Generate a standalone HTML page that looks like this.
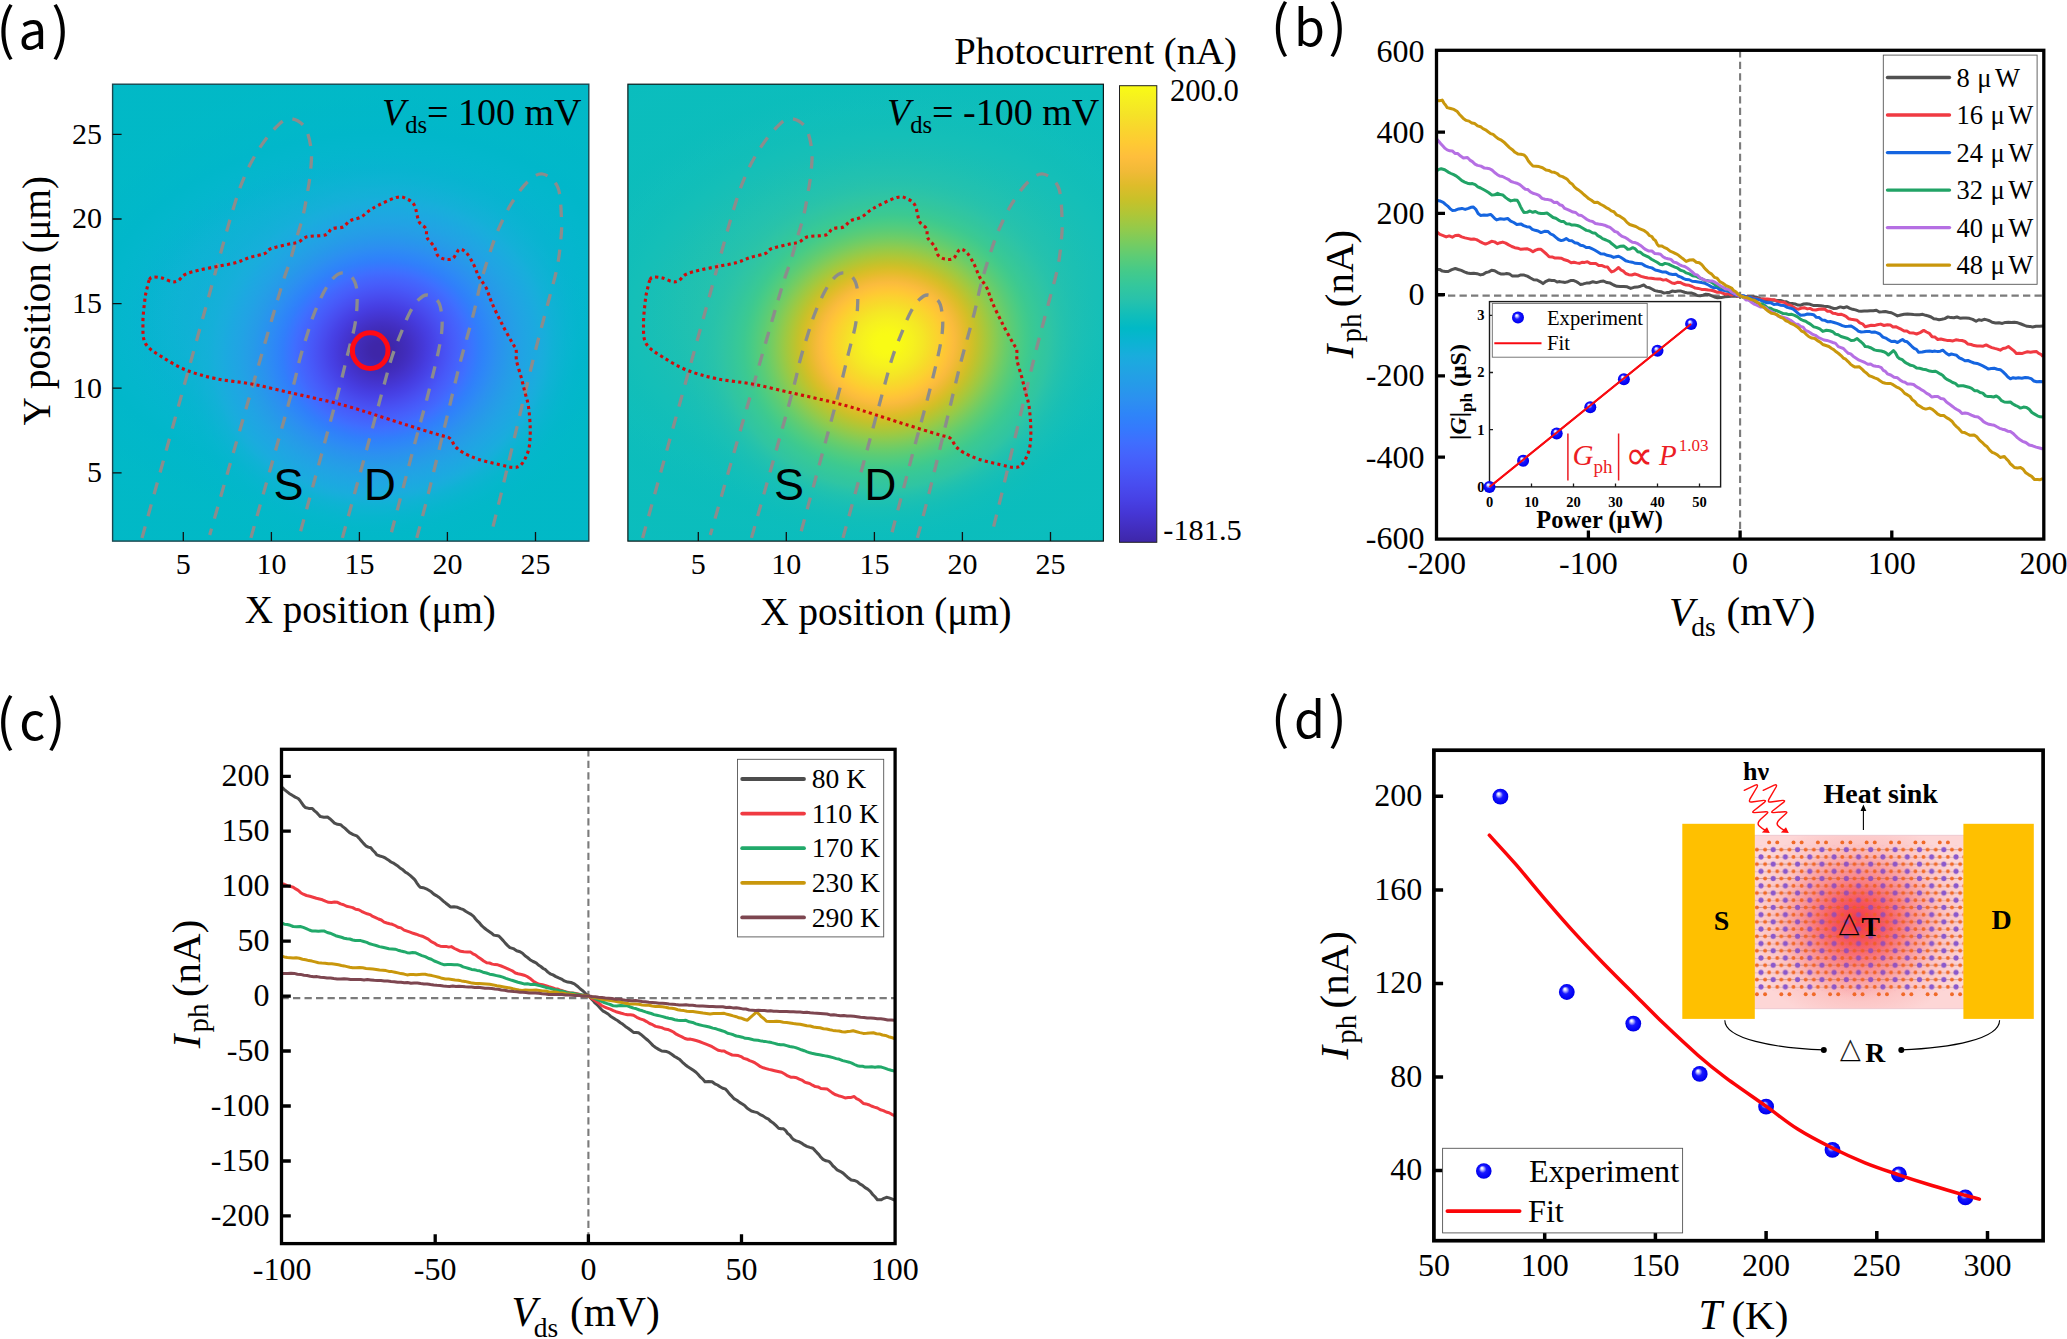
<!DOCTYPE html>
<html><head><meta charset="utf-8"><title>Figure</title>
<style>html,body{margin:0;padding:0;background:#fff}svg{display:block}</style>
</head><body>
<svg width="2067" height="1339" viewBox="0 0 2067 1339">
<defs>
<clipPath id="clipA"><rect x="112.6" y="84.2" width="476.19999999999993" height="456.90000000000003"/></clipPath>
<clipPath id="clipB"><rect x="627.9" y="84.2" width="475.5000000000001" height="456.90000000000003"/></clipPath>
<radialGradient id="gLw" gradientUnits="userSpaceOnUse" cx="0" cy="0" r="360.0" gradientTransform="translate(352,302) rotate(-8) scale(1.250,0.800)"><stop offset="0.000" stop-color="#23a0e5"/><stop offset="0.042" stop-color="#23a1e5"/><stop offset="0.083" stop-color="#22a2e4"/><stop offset="0.125" stop-color="#21a3e3"/><stop offset="0.167" stop-color="#1fa5e2"/><stop offset="0.208" stop-color="#1ea8e1"/><stop offset="0.250" stop-color="#1baade"/><stop offset="0.292" stop-color="#19addc"/><stop offset="0.333" stop-color="#15afd9"/><stop offset="0.375" stop-color="#12b1d6"/><stop offset="0.417" stop-color="#0db3d3"/><stop offset="0.458" stop-color="#08b4d0"/><stop offset="0.500" stop-color="#05b6ce"/><stop offset="0.542" stop-color="#03b7cc"/><stop offset="0.583" stop-color="#01b7ca"/><stop offset="0.625" stop-color="#01b8c9"/><stop offset="0.667" stop-color="#01b8c8"/><stop offset="0.708" stop-color="#01b9c7"/><stop offset="0.750" stop-color="#01b9c7"/><stop offset="0.792" stop-color="#01b9c6"/><stop offset="0.833" stop-color="#01b9c6"/><stop offset="0.875" stop-color="#01b9c6"/><stop offset="0.917" stop-color="#01b9c6"/><stop offset="0.958" stop-color="#01b9c6"/><stop offset="1.000" stop-color="#01b9c6"/></radialGradient>
<radialGradient id="gLn" gradientUnits="userSpaceOnUse" cx="0" cy="0" r="310.0" gradientTransform="translate(381,350) rotate(-12) scale(0.750,0.670)"><stop offset="0.000" stop-color="#3e26a8" stop-opacity="1.000"/><stop offset="0.014" stop-color="#3e26a8" stop-opacity="1.000"/><stop offset="0.032" stop-color="#3e26a8" stop-opacity="1.000"/><stop offset="0.051" stop-color="#3e27ab" stop-opacity="1.000"/><stop offset="0.071" stop-color="#3f29b0" stop-opacity="1.000"/><stop offset="0.092" stop-color="#402bb6" stop-opacity="1.000"/><stop offset="0.113" stop-color="#412dbd" stop-opacity="1.000"/><stop offset="0.135" stop-color="#4330c5" stop-opacity="1.000"/><stop offset="0.157" stop-color="#4434ce" stop-opacity="1.000"/><stop offset="0.180" stop-color="#4538d7" stop-opacity="1.000"/><stop offset="0.203" stop-color="#463de0" stop-opacity="1.000"/><stop offset="0.227" stop-color="#4743e7" stop-opacity="1.000"/><stop offset="0.250" stop-color="#484aed" stop-opacity="1.000"/><stop offset="0.275" stop-color="#4851f3" stop-opacity="1.000"/><stop offset="0.299" stop-color="#4758f8" stop-opacity="1.000"/><stop offset="0.324" stop-color="#465ffb" stop-opacity="1.000"/><stop offset="0.349" stop-color="#4366fd" stop-opacity="1.000"/><stop offset="0.374" stop-color="#3f6eff" stop-opacity="1.000"/><stop offset="0.399" stop-color="#3876fe" stop-opacity="1.000"/><stop offset="0.425" stop-color="#317efb" stop-opacity="1.000"/><stop offset="0.451" stop-color="#2e85f8" stop-opacity="1.000"/><stop offset="0.477" stop-color="#2d8bf4" stop-opacity="1.000"/><stop offset="0.503" stop-color="#2b91ef" stop-opacity="1.000"/><stop offset="0.529" stop-color="#2896ec" stop-opacity="1.000"/><stop offset="0.556" stop-color="#269be8" stop-opacity="1.000"/><stop offset="0.582" stop-color="#249fe6" stop-opacity="1.000"/><stop offset="0.609" stop-color="#21a3e4" stop-opacity="1.000"/><stop offset="0.636" stop-color="#1fa6e2" stop-opacity="1.000"/><stop offset="0.664" stop-color="#1ca9e0" stop-opacity="1.000"/><stop offset="0.691" stop-color="#1aacdd" stop-opacity="1.000"/><stop offset="0.718" stop-color="#18aedb" stop-opacity="0.874"/><stop offset="0.746" stop-color="#14b0d8" stop-opacity="0.720"/><stop offset="0.774" stop-color="#12b1d6" stop-opacity="0.588"/><stop offset="0.802" stop-color="#0eb2d4" stop-opacity="0.476"/><stop offset="0.830" stop-color="#0bb4d2" stop-opacity="0.382"/><stop offset="0.858" stop-color="#08b4d0" stop-opacity="0.304"/><stop offset="0.886" stop-color="#06b5cf" stop-opacity="0.240"/><stop offset="0.914" stop-color="#05b6ce" stop-opacity="0.188"/><stop offset="0.943" stop-color="#04b6cd" stop-opacity="0.146"/><stop offset="0.971" stop-color="#03b7cc" stop-opacity="0.112"/><stop offset="1.000" stop-color="#02b7cb" stop-opacity="0.085"/></radialGradient>
<radialGradient id="gRw" gradientUnits="userSpaceOnUse" cx="0" cy="0" r="360.0" gradientTransform="translate(872,300) rotate(-8) scale(1.240,0.840)"><stop offset="0.000" stop-color="#3dc990"/><stop offset="0.042" stop-color="#3cc991"/><stop offset="0.083" stop-color="#3bc993"/><stop offset="0.125" stop-color="#38c895"/><stop offset="0.167" stop-color="#36c799"/><stop offset="0.208" stop-color="#33c69d"/><stop offset="0.250" stop-color="#30c5a1"/><stop offset="0.292" stop-color="#2dc4a5"/><stop offset="0.333" stop-color="#29c3a9"/><stop offset="0.375" stop-color="#25c2ad"/><stop offset="0.417" stop-color="#21c1b0"/><stop offset="0.458" stop-color="#1cc0b3"/><stop offset="0.500" stop-color="#18bfb6"/><stop offset="0.542" stop-color="#14bfb8"/><stop offset="0.583" stop-color="#11beb9"/><stop offset="0.625" stop-color="#0fbebb"/><stop offset="0.667" stop-color="#0dbdbc"/><stop offset="0.708" stop-color="#0bbdbc"/><stop offset="0.750" stop-color="#0bbdbd"/><stop offset="0.792" stop-color="#0abdbd"/><stop offset="0.833" stop-color="#0abdbd"/><stop offset="0.875" stop-color="#0abdbe"/><stop offset="0.917" stop-color="#09bdbe"/><stop offset="0.958" stop-color="#09bdbe"/><stop offset="1.000" stop-color="#09bcbe"/></radialGradient>
<radialGradient id="gRn" gradientUnits="userSpaceOnUse" cx="0" cy="0" r="310.0" gradientTransform="translate(887,343) rotate(-10) scale(0.730,0.650)"><stop offset="0.000" stop-color="#f9fb15" stop-opacity="1.000"/><stop offset="0.014" stop-color="#f9fb15" stop-opacity="1.000"/><stop offset="0.032" stop-color="#f9fb15" stop-opacity="1.000"/><stop offset="0.051" stop-color="#f9fa16" stop-opacity="1.000"/><stop offset="0.071" stop-color="#f8f818" stop-opacity="1.000"/><stop offset="0.092" stop-color="#f7f41c" stop-opacity="1.000"/><stop offset="0.113" stop-color="#f6f11f" stop-opacity="1.000"/><stop offset="0.135" stop-color="#f5ec22" stop-opacity="1.000"/><stop offset="0.157" stop-color="#f5e725" stop-opacity="1.000"/><stop offset="0.180" stop-color="#f6e028" stop-opacity="1.000"/><stop offset="0.203" stop-color="#f8d92b" stop-opacity="1.000"/><stop offset="0.227" stop-color="#fbd22f" stop-opacity="1.000"/><stop offset="0.250" stop-color="#feca33" stop-opacity="1.000"/><stop offset="0.275" stop-color="#fec239" stop-opacity="1.000"/><stop offset="0.299" stop-color="#fabb3d" stop-opacity="1.000"/><stop offset="0.324" stop-color="#efba35" stop-opacity="1.000"/><stop offset="0.349" stop-color="#e2bc2b" stop-opacity="1.000"/><stop offset="0.374" stop-color="#d3bf27" stop-opacity="1.000"/><stop offset="0.399" stop-color="#c2c22c" stop-opacity="1.000"/><stop offset="0.425" stop-color="#b0c636" stop-opacity="1.000"/><stop offset="0.451" stop-color="#9ec942" stop-opacity="1.000"/><stop offset="0.477" stop-color="#8ccb50" stop-opacity="1.000"/><stop offset="0.503" stop-color="#7acc5e" stop-opacity="1.000"/><stop offset="0.529" stop-color="#69cd6a" stop-opacity="1.000"/><stop offset="0.556" stop-color="#5bcc76" stop-opacity="1.000"/><stop offset="0.582" stop-color="#4fcc80" stop-opacity="1.000"/><stop offset="0.609" stop-color="#44cb89" stop-opacity="1.000"/><stop offset="0.636" stop-color="#3cc991" stop-opacity="1.000"/><stop offset="0.664" stop-color="#37c898" stop-opacity="1.000"/><stop offset="0.691" stop-color="#33c69d" stop-opacity="1.000"/><stop offset="0.718" stop-color="#30c5a2" stop-opacity="0.982"/><stop offset="0.746" stop-color="#2dc4a6" stop-opacity="0.808"/><stop offset="0.774" stop-color="#29c3a9" stop-opacity="0.660"/><stop offset="0.802" stop-color="#26c2ac" stop-opacity="0.535"/><stop offset="0.830" stop-color="#23c1af" stop-opacity="0.429"/><stop offset="0.858" stop-color="#20c1b1" stop-opacity="0.342"/><stop offset="0.886" stop-color="#1dc0b3" stop-opacity="0.270"/><stop offset="0.914" stop-color="#1ac0b4" stop-opacity="0.211"/><stop offset="0.943" stop-color="#18bfb6" stop-opacity="0.164"/><stop offset="0.971" stop-color="#16bfb7" stop-opacity="0.126"/><stop offset="1.000" stop-color="#14bfb8" stop-opacity="0.096"/></radialGradient>
<linearGradient id="cb" x1="0" y1="0" x2="0" y2="1"><stop offset="0.0000" stop-color="#f9fb15"/><stop offset="0.0312" stop-color="#f6ef20"/><stop offset="0.0625" stop-color="#f5e327"/><stop offset="0.0938" stop-color="#f9d62d"/><stop offset="0.1250" stop-color="#feca33"/><stop offset="0.1562" stop-color="#febe3c"/><stop offset="0.1875" stop-color="#f1ba37"/><stop offset="0.2188" stop-color="#debc2a"/><stop offset="0.2500" stop-color="#c8c129"/><stop offset="0.2812" stop-color="#afc637"/><stop offset="0.3125" stop-color="#94ca4a"/><stop offset="0.3438" stop-color="#77cc60"/><stop offset="0.3750" stop-color="#5ccc76"/><stop offset="0.4062" stop-color="#44ca8a"/><stop offset="0.4375" stop-color="#34c79c"/><stop offset="0.4688" stop-color="#28c2ab"/><stop offset="0.5000" stop-color="#12beb9"/><stop offset="0.5312" stop-color="#01b9c6"/><stop offset="0.5625" stop-color="#0cb3d3"/><stop offset="0.5938" stop-color="#1aacdd"/><stop offset="0.6250" stop-color="#21a3e3"/><stop offset="0.6562" stop-color="#269ae9"/><stop offset="0.6875" stop-color="#2c90f0"/><stop offset="0.7188" stop-color="#2e85f8"/><stop offset="0.7500" stop-color="#347afd"/><stop offset="0.7812" stop-color="#3f6efe"/><stop offset="0.8125" stop-color="#4562fc"/><stop offset="0.8438" stop-color="#4757f7"/><stop offset="0.8750" stop-color="#484cef"/><stop offset="0.9062" stop-color="#4741e5"/><stop offset="0.9375" stop-color="#4536d5"/><stop offset="0.9688" stop-color="#422ebf"/><stop offset="1.0000" stop-color="#3e26a8"/></linearGradient>
<radialGradient id="ball" cx="0.5" cy="0.5" r="0.52" fx="0.37" fy="0.3"><stop offset="0" stop-color="#ffffff"/><stop offset="0.1" stop-color="#f0f0ff"/><stop offset="0.26" stop-color="#9a9aff"/><stop offset="0.46" stop-color="#1818ff"/><stop offset="0.85" stop-color="#0202f4"/><stop offset="1" stop-color="#0000d8"/></radialGradient>
<radialGradient id="heat" gradientUnits="userSpaceOnUse" cx="1858" cy="922" r="118" gradientTransform="translate(1858,922) scale(1,0.86) translate(-1858,-922)"><stop offset="0" stop-color="#f4404a"/><stop offset="0.2" stop-color="#f6666c"/><stop offset="0.45" stop-color="#f99a9c"/><stop offset="0.75" stop-color="#fcc4c4"/><stop offset="1" stop-color="#fdd6d6"/></radialGradient>
<pattern id="lat" patternUnits="userSpaceOnUse" x="1761.0" y="842.46" width="24.38" height="14.44"><path d="M0,0H24.38M0,7.22H24.38" stroke="#a8756a" stroke-width="0.7" opacity="0.75"/><circle cx="-24.38" cy="0.00" r="2.55" fill="#8a58cc"/><circle cx="-16.25" cy="0.00" r="1.95" fill="#f06a28"/><circle cx="-8.12" cy="0.00" r="1.95" fill="#f06a28"/><circle cx="0.00" cy="0.00" r="2.55" fill="#8a58cc"/><circle cx="8.13" cy="0.00" r="1.95" fill="#f06a28"/><circle cx="16.26" cy="0.00" r="1.95" fill="#f06a28"/><circle cx="24.38" cy="0.00" r="2.55" fill="#8a58cc"/><circle cx="32.51" cy="0.00" r="1.95" fill="#f06a28"/><circle cx="40.64" cy="0.00" r="1.95" fill="#f06a28"/><circle cx="-24.38" cy="14.44" r="2.55" fill="#8a58cc"/><circle cx="-16.25" cy="14.44" r="1.95" fill="#f06a28"/><circle cx="-8.12" cy="14.44" r="1.95" fill="#f06a28"/><circle cx="0.00" cy="14.44" r="2.55" fill="#8a58cc"/><circle cx="8.13" cy="14.44" r="1.95" fill="#f06a28"/><circle cx="16.26" cy="14.44" r="1.95" fill="#f06a28"/><circle cx="24.38" cy="14.44" r="2.55" fill="#8a58cc"/><circle cx="32.51" cy="14.44" r="1.95" fill="#f06a28"/><circle cx="40.64" cy="14.44" r="1.95" fill="#f06a28"/><circle cx="-12.19" cy="7.22" r="2.55" fill="#8a58cc"/><circle cx="-4.06" cy="7.22" r="1.95" fill="#f06a28"/><circle cx="4.07" cy="7.22" r="1.95" fill="#f06a28"/><circle cx="12.19" cy="7.22" r="2.55" fill="#8a58cc"/><circle cx="20.32" cy="7.22" r="1.95" fill="#f06a28"/><circle cx="28.45" cy="7.22" r="1.95" fill="#f06a28"/><circle cx="36.57" cy="7.22" r="2.55" fill="#8a58cc"/><circle cx="44.70" cy="7.22" r="1.95" fill="#f06a28"/><circle cx="52.83" cy="7.22" r="1.95" fill="#f06a28"/></pattern>
<clipPath id="clipLat"><rect x="1754.8" y="845.8" width="208.60000000000014" height="145.0"/></clipPath>
<radialGradient id="heat2" gradientUnits="userSpaceOnUse" cx="1858" cy="922" r="80"><stop offset="0" stop-color="#f42030" stop-opacity="0.3"/><stop offset="1" stop-color="#f42030" stop-opacity="0"/></radialGradient>
</defs>
<rect width="2067" height="1339" fill="#fff"/>
<text y="49.3" font-family="Noto Sans CJK SC, Liberation Sans, sans-serif" font-size="55.3"><tspan x="-3.8">(</tspan><tspan x="18.5" font-size="51">a</tspan><tspan x="51.2" font-size="55.3">)</tspan></text>
<rect x="112.6" y="84.2" width="476.19999999999993" height="456.90000000000003" fill="#01b9c6"/>
<rect x="112.6" y="84.2" width="476.19999999999993" height="456.90000000000003" fill="url(#gLw)"/>
<rect x="112.6" y="84.2" width="476.19999999999993" height="456.90000000000003" fill="url(#gLn)"/>
<rect x="627.9" y="84.2" width="475.5000000000001" height="456.90000000000003" fill="#09bcbe"/>
<rect x="627.9" y="84.2" width="475.5000000000001" height="456.90000000000003" fill="url(#gRw)"/>
<rect x="627.9" y="84.2" width="475.5000000000001" height="456.90000000000003" fill="url(#gRn)"/>
<g clip-path="url(#clipA)"><g fill="none"><path d="M142.0,538.0C152.2,501.1 190.6,362.2 203.2,316.6C215.8,271.0 213.5,279.2 217.5,264.6C221.5,250.0 224.7,238.3 227.4,228.7C230.1,219.1 231.5,214.4 233.7,207.2C235.9,200.0 238.1,192.7 240.8,185.7C243.5,178.7 246.4,171.8 249.8,165.1C253.2,158.4 257.1,151.7 261.4,145.4C265.7,139.1 271.2,132.0 275.8,127.5C280.4,123.0 284.2,118.7 289.0,118.5C293.8,118.3 300.7,121.5 304.4,126.6C308.1,131.7 310.1,141.4 311.1,149.0C312.1,156.6 311.1,164.7 310.4,172.3C309.7,179.9 308.4,187.2 307.1,194.7C305.8,202.2 304.5,209.8 302.7,217.1C300.9,224.4 298.5,231.3 296.4,238.6C294.3,245.9 293.5,249.8 290.1,261.0C286.7,272.2 289.2,260.1 275.8,305.8C262.4,351.5 220.7,496.8 209.7,535.0" stroke="#8c8c8c" stroke-width="3.3" stroke-dasharray="12.3 10.4"/><path d="M250.9,537.9C257.4,514.9 281.5,429.7 289.6,400.0C297.7,370.3 296.8,370.2 299.7,359.5C302.6,348.8 304.5,343.2 306.9,335.6C309.3,328.0 311.2,321.2 314.0,314.0C316.8,306.8 320.5,298.5 323.6,292.6C326.7,286.7 329.5,282.1 332.6,278.8C335.7,275.5 338.9,273.2 342.1,272.9C345.3,272.6 349.3,274.5 351.7,277.0C354.1,279.5 355.6,283.0 356.5,287.8C357.4,292.6 357.3,299.3 357.0,305.7C356.7,312.1 356.2,318.2 354.7,326.0C353.2,333.8 351.2,340.0 348.1,352.3C345.0,364.6 344.2,370.0 336.2,400.0C328.2,430.0 306.3,510.3 300.3,532.4" stroke="#8c8c8c" stroke-width="3.3" stroke-dasharray="12.3 10.4"/><path d="M342.4,537.9C346.4,523.2 359.4,476.1 366.5,450.0C373.6,423.9 380.8,396.7 385.1,381.0C389.4,365.3 389.5,364.3 392.3,355.9C395.1,347.5 398.9,338.2 401.9,330.8C404.9,323.4 407.4,316.9 410.2,311.7C413.0,306.5 415.8,302.5 418.6,299.7C421.4,296.9 423.8,294.8 427.0,295.0C430.2,295.2 435.3,298.1 437.7,300.9C440.1,303.7 440.6,306.9 441.3,311.7C442.0,316.5 442.5,322.4 441.9,329.6C441.3,336.8 440.2,343.2 437.7,354.7C435.2,366.2 430.8,383.5 426.9,398.8C422.9,414.1 419.9,424.0 414.0,446.4C408.1,468.8 395.0,518.8 391.2,533.3" stroke="#8c8c8c" stroke-width="3.3" stroke-dasharray="12.3 10.4"/><path d="M416.8,537.9C418.8,530.3 424.0,511.0 428.7,492.1C433.4,473.2 440.0,445.8 445.2,424.4C450.4,403.0 455.1,382.6 459.8,364.0C464.6,345.4 470.2,326.6 473.7,313.0C477.2,299.4 478.0,292.9 480.8,282.5C483.6,272.1 487.7,259.3 490.7,250.3C493.7,241.3 495.3,236.5 498.7,228.7C502.1,220.9 506.5,211.5 511.3,203.7C516.1,195.9 522.2,186.9 527.4,182.0C532.6,177.1 537.5,173.1 542.6,174.0C547.7,174.9 554.8,179.9 557.9,187.5C561.0,195.1 561.0,210.8 561.5,219.8C562.0,228.8 561.4,233.3 560.6,241.3C559.9,249.3 559.1,257.7 557.0,268.0C554.9,278.3 551.7,288.8 548.0,303.0C544.3,317.2 539.4,334.6 534.8,353.0C530.2,371.4 525.4,391.7 520.2,413.4C515.0,435.1 508.4,463.3 503.7,483.0C499.0,502.7 493.8,523.4 491.8,531.5" stroke="#8c8c8c" stroke-width="3.3" stroke-dasharray="12.3 10.4"/><path d="M149.4,279.8C150.5,277.7 150.9,277.4 153.0,277.1C155.1,276.8 158.9,277.2 162.0,278.0C165.1,278.8 169.1,281.2 171.8,281.6C174.5,282.1 175.8,281.9 178.1,280.7C180.3,279.5 181.7,276.2 185.3,274.4C188.9,272.6 194.2,271.3 199.6,270.0C205.0,268.7 211.5,267.6 217.5,266.4C223.5,265.2 230.0,264.3 235.4,262.8C240.8,261.3 245.0,258.9 249.8,257.4C254.6,255.9 260.5,255.3 264.1,253.8C267.7,252.3 267.1,250.1 271.3,248.5C275.5,246.9 284.7,245.1 289.2,244.0C293.7,242.9 295.2,243.4 298.2,242.2C301.2,241.0 302.6,238.0 307.1,236.8C311.6,235.6 320.9,236.3 325.1,235.0C329.3,233.7 329.2,230.0 332.2,228.7C335.2,227.4 340.0,228.3 343.0,227.0C346.0,225.7 347.1,222.3 350.1,220.7C353.1,219.0 357.0,219.2 360.9,217.1C364.8,215.0 367.4,211.3 373.3,208.0C379.2,204.7 390.9,198.9 396.6,197.4C402.3,195.9 404.3,197.9 407.3,199.2C410.3,200.5 412.6,201.7 414.5,205.4C416.4,209.1 417.1,217.7 419.0,221.6C420.9,225.5 424.7,226.0 426.0,228.7C427.3,231.4 425.6,234.7 427.0,237.7C428.4,240.7 432.4,243.7 434.2,246.7C436.0,249.7 436.0,253.5 437.8,255.6C439.6,257.7 442.5,258.8 445.0,259.2C447.5,259.6 450.6,259.9 453.0,258.3C455.4,256.7 457.1,250.3 459.3,249.4C461.6,248.5 464.1,250.5 466.5,253.0C468.9,255.5 471.6,260.6 473.7,264.6C475.8,268.6 476.9,273.1 479.0,277.0C481.1,280.9 484.1,283.7 486.2,287.9C488.3,292.1 489.0,296.2 491.6,302.2C494.2,308.2 498.3,316.9 501.9,323.8C505.4,330.8 510.5,339.6 512.9,343.9C515.3,348.2 515.5,346.6 516.1,349.4C516.7,352.1 515.7,355.8 516.5,360.4C517.3,365.0 519.7,371.7 521.1,376.9C522.5,382.1 523.5,386.6 524.7,391.5C525.9,396.4 527.5,400.0 528.4,406.1C529.3,412.2 530.1,421.4 530.2,428.1C530.4,434.8 530.0,441.5 529.3,446.4C528.5,451.3 527.2,454.2 525.7,457.4C524.2,460.6 522.3,463.9 520.2,465.6C518.1,467.3 516.3,467.5 512.9,467.4C509.5,467.2 505.8,466.1 500.0,464.7C494.2,463.3 484.2,461.2 478.1,459.2C472.0,457.2 467.2,454.9 463.4,452.8C459.6,450.7 457.5,448.8 455.2,446.4C452.9,444.0 452.6,440.2 449.7,438.2C446.8,436.2 445.3,436.8 437.8,434.5C430.3,432.2 415.6,427.8 404.9,424.4C394.2,421.0 382.9,417.3 373.8,414.4C364.7,411.5 357.4,409.1 350.0,407.0C342.6,404.9 339.1,403.9 329.6,401.6C320.1,399.3 305.8,396.2 293.0,393.3C280.2,390.4 265.5,386.6 252.7,384.2C239.9,381.8 227.1,381.0 216.1,378.7C205.1,376.4 195.8,373.9 186.9,370.4C178.1,366.9 169.9,362.0 163.0,357.6C156.1,353.2 149.0,349.5 145.7,343.9C142.3,338.3 143.1,331.1 142.9,323.8C142.8,316.5 144.2,305.7 144.8,300.0C145.4,294.3 145.9,293.1 146.7,289.7C147.5,286.3 148.3,281.9 149.4,279.8Z" stroke="#d20c0c" stroke-width="3.1" stroke-dasharray="3.1 3.3"/></g></g>
<g clip-path="url(#clipB)"><g fill="none"><path d="M642.6,538.0C652.8,501.1 691.2,362.2 703.8,316.6C716.4,271.0 714.1,279.2 718.1,264.6C722.1,250.0 725.3,238.3 728.0,228.7C730.7,219.1 732.1,214.4 734.3,207.2C736.5,200.0 738.7,192.7 741.4,185.7C744.1,178.7 747.0,171.8 750.4,165.1C753.8,158.4 757.7,151.7 762.0,145.4C766.3,139.1 771.8,132.0 776.4,127.5C781.0,123.0 784.8,118.7 789.6,118.5C794.4,118.3 801.3,121.5 805.0,126.6C808.7,131.7 810.7,141.4 811.7,149.0C812.7,156.6 811.7,164.7 811.0,172.3C810.3,179.9 809.0,187.2 807.7,194.7C806.4,202.2 805.1,209.8 803.3,217.1C801.5,224.4 799.1,231.3 797.0,238.6C794.9,245.9 794.1,249.8 790.7,261.0C787.3,272.2 789.8,260.1 776.4,305.8C763.0,351.5 721.3,496.8 710.3,535.0" stroke="#8c8c8c" stroke-width="3.3" stroke-dasharray="12.3 10.4"/><path d="M751.5,537.9C758.0,514.9 782.1,429.7 790.2,400.0C798.3,370.3 797.4,370.2 800.3,359.5C803.2,348.8 805.1,343.2 807.5,335.6C809.9,328.0 811.8,321.2 814.6,314.0C817.4,306.8 821.1,298.5 824.2,292.6C827.3,286.7 830.1,282.1 833.2,278.8C836.3,275.5 839.5,273.2 842.7,272.9C845.9,272.6 849.9,274.5 852.3,277.0C854.7,279.5 856.2,283.0 857.1,287.8C858.0,292.6 857.9,299.3 857.6,305.7C857.3,312.1 856.8,318.2 855.3,326.0C853.8,333.8 851.8,340.0 848.7,352.3C845.6,364.6 844.8,370.0 836.8,400.0C828.8,430.0 806.9,510.3 800.9,532.4" stroke="#8c8c8c" stroke-width="3.3" stroke-dasharray="12.3 10.4"/><path d="M843.0,537.9C847.0,523.2 860.0,476.1 867.1,450.0C874.2,423.9 881.4,396.7 885.7,381.0C890.0,365.3 890.1,364.3 892.9,355.9C895.7,347.5 899.5,338.2 902.5,330.8C905.5,323.4 908.0,316.9 910.8,311.7C913.6,306.5 916.4,302.5 919.2,299.7C922.0,296.9 924.4,294.8 927.6,295.0C930.8,295.2 935.9,298.1 938.3,300.9C940.7,303.7 941.2,306.9 941.9,311.7C942.6,316.5 943.1,322.4 942.5,329.6C941.9,336.8 940.8,343.2 938.3,354.7C935.8,366.2 931.5,383.5 927.5,398.8C923.5,414.1 920.6,424.0 914.6,446.4C908.6,468.8 895.6,518.8 891.8,533.3" stroke="#8c8c8c" stroke-width="3.3" stroke-dasharray="12.3 10.4"/><path d="M917.4,537.9C919.4,530.3 924.6,511.0 929.3,492.1C934.0,473.2 940.6,445.8 945.8,424.4C951.0,403.0 955.7,382.6 960.4,364.0C965.2,345.4 970.8,326.6 974.3,313.0C977.8,299.4 978.6,292.9 981.4,282.5C984.2,272.1 988.3,259.3 991.3,250.3C994.3,241.3 995.9,236.5 999.3,228.7C1002.7,220.9 1007.1,211.5 1011.9,203.7C1016.7,195.9 1022.8,186.9 1028.0,182.0C1033.2,177.1 1038.1,173.1 1043.2,174.0C1048.3,174.9 1055.3,179.9 1058.5,187.5C1061.7,195.1 1061.6,210.8 1062.1,219.8C1062.5,228.8 1062.0,233.3 1061.2,241.3C1060.5,249.3 1059.7,257.7 1057.6,268.0C1055.5,278.3 1052.3,288.8 1048.6,303.0C1044.9,317.2 1040.0,334.6 1035.4,353.0C1030.8,371.4 1026.0,391.7 1020.8,413.4C1015.6,435.1 1009.0,463.3 1004.3,483.0C999.6,502.7 994.4,523.4 992.4,531.5" stroke="#8c8c8c" stroke-width="3.3" stroke-dasharray="12.3 10.4"/><path d="M650.0,279.8C651.0,277.7 651.5,277.4 653.6,277.1C655.7,276.8 659.5,277.2 662.6,278.0C665.7,278.8 669.7,281.2 672.4,281.6C675.1,282.1 676.5,281.9 678.7,280.7C681.0,279.5 682.3,276.2 685.9,274.4C689.5,272.6 694.8,271.3 700.2,270.0C705.6,268.7 712.1,267.6 718.1,266.4C724.1,265.2 730.6,264.3 736.0,262.8C741.4,261.3 745.6,258.9 750.4,257.4C755.2,255.9 761.1,255.3 764.7,253.8C768.3,252.3 767.7,250.1 771.9,248.5C776.1,246.9 785.3,245.1 789.8,244.0C794.3,242.9 795.8,243.4 798.8,242.2C801.8,241.0 803.2,238.0 807.7,236.8C812.2,235.6 821.5,236.3 825.7,235.0C829.9,233.7 829.8,230.0 832.8,228.7C835.8,227.4 840.6,228.3 843.6,227.0C846.6,225.7 847.7,222.3 850.7,220.7C853.7,219.0 857.6,219.2 861.5,217.1C865.4,215.0 868.0,211.3 873.9,208.0C879.9,204.7 891.5,198.9 897.2,197.4C902.9,195.9 904.9,197.9 907.9,199.2C910.9,200.5 913.2,201.7 915.1,205.4C917.0,209.1 917.7,217.7 919.6,221.6C921.5,225.5 925.3,226.0 926.6,228.7C927.9,231.4 926.2,234.7 927.6,237.7C929.0,240.7 933.0,243.7 934.8,246.7C936.6,249.7 936.6,253.5 938.4,255.6C940.2,257.7 943.1,258.8 945.6,259.2C948.1,259.6 951.2,259.9 953.6,258.3C956.0,256.7 957.7,250.3 959.9,249.4C962.2,248.5 964.7,250.5 967.1,253.0C969.5,255.5 972.2,260.6 974.3,264.6C976.4,268.6 977.5,273.1 979.6,277.0C981.7,280.9 984.7,283.7 986.8,287.9C988.9,292.1 989.6,296.2 992.2,302.2C994.8,308.2 999.0,316.9 1002.5,323.8C1006.0,330.8 1011.1,339.6 1013.5,343.9C1015.9,348.2 1016.1,346.6 1016.7,349.4C1017.3,352.1 1016.3,355.8 1017.1,360.4C1017.9,365.0 1020.3,371.7 1021.7,376.9C1023.1,382.1 1024.1,386.6 1025.3,391.5C1026.5,396.4 1028.1,400.0 1029.0,406.1C1029.9,412.2 1030.7,421.4 1030.8,428.1C1031.0,434.8 1030.7,441.5 1029.9,446.4C1029.2,451.3 1027.8,454.2 1026.3,457.4C1024.8,460.6 1022.9,463.9 1020.8,465.6C1018.7,467.3 1016.9,467.5 1013.5,467.4C1010.1,467.2 1006.4,466.1 1000.6,464.7C994.8,463.3 984.8,461.2 978.7,459.2C972.6,457.2 967.8,454.9 964.0,452.8C960.2,450.7 958.1,448.8 955.8,446.4C953.5,444.0 953.2,440.2 950.3,438.2C947.4,436.2 945.9,436.8 938.4,434.5C930.9,432.2 916.2,427.8 905.5,424.4C894.8,421.0 883.6,417.3 874.4,414.4C865.3,411.5 858.0,409.1 850.6,407.0C843.2,404.9 839.7,403.9 830.2,401.6C820.7,399.3 806.4,396.2 793.6,393.3C780.8,390.4 766.1,386.6 753.3,384.2C740.5,381.8 727.7,381.0 716.7,378.7C705.7,376.4 696.4,373.9 687.5,370.4C678.6,366.9 670.5,362.0 663.6,357.6C656.7,353.2 649.6,349.5 646.3,343.9C642.9,338.3 643.6,331.1 643.5,323.8C643.4,316.5 644.8,305.7 645.4,300.0C646.0,294.3 646.5,293.1 647.3,289.7C648.1,286.3 649.0,281.9 650.0,279.8Z" stroke="#d20c0c" stroke-width="3.1" stroke-dasharray="3.1 3.3"/></g></g>
<circle cx="370.2" cy="350.6" r="17.8" fill="none" stroke="#ff0a14" stroke-width="5"/>
<text x="273.5" y="499.5" font-size="45" text-anchor="start" font-family="Liberation Sans, sans-serif" >S</text>
<text x="364.0" y="500.2" font-size="44" text-anchor="start" font-family="Liberation Sans, sans-serif" >D</text>
<text x="774.1" y="499.5" font-size="45" text-anchor="start" font-family="Liberation Sans, sans-serif" >S</text>
<text x="864.6" y="500.2" font-size="44" text-anchor="start" font-family="Liberation Sans, sans-serif" >D</text>
<rect x="112.6" y="84.2" width="476.19999999999993" height="456.90000000000003" fill="none" stroke="#1c464e" stroke-width="1.4"/>
<rect x="627.9" y="84.2" width="475.5000000000001" height="456.90000000000003" fill="none" stroke="#0d1a1a" stroke-width="1.2"/>
<text x="183.3" y="574.0" font-size="30" text-anchor="middle" font-family="Liberation Serif, serif" >5</text>
<text x="698.3" y="574.0" font-size="30" text-anchor="middle" font-family="Liberation Serif, serif" >5</text>
<text x="102.0" y="482.1" font-size="30" text-anchor="end" font-family="Liberation Serif, serif" >5</text>
<text x="271.4" y="574.0" font-size="30" text-anchor="middle" font-family="Liberation Serif, serif" >10</text>
<text x="786.3" y="574.0" font-size="30" text-anchor="middle" font-family="Liberation Serif, serif" >10</text>
<text x="102.0" y="397.5" font-size="30" text-anchor="end" font-family="Liberation Serif, serif" >10</text>
<text x="359.4" y="574.0" font-size="30" text-anchor="middle" font-family="Liberation Serif, serif" >15</text>
<text x="874.4" y="574.0" font-size="30" text-anchor="middle" font-family="Liberation Serif, serif" >15</text>
<text x="102.0" y="312.9" font-size="30" text-anchor="end" font-family="Liberation Serif, serif" >15</text>
<text x="447.4" y="574.0" font-size="30" text-anchor="middle" font-family="Liberation Serif, serif" >20</text>
<text x="962.4" y="574.0" font-size="30" text-anchor="middle" font-family="Liberation Serif, serif" >20</text>
<text x="102.0" y="228.3" font-size="30" text-anchor="end" font-family="Liberation Serif, serif" >20</text>
<text x="535.5" y="574.0" font-size="30" text-anchor="middle" font-family="Liberation Serif, serif" >25</text>
<text x="1050.5" y="574.0" font-size="30" text-anchor="middle" font-family="Liberation Serif, serif" >25</text>
<text x="102.0" y="143.7" font-size="30" text-anchor="end" font-family="Liberation Serif, serif" >25</text>
<path d="M183.3,541.1v-9M698.3,541.1v-9M112.6,472.8h9M271.4,541.1v-9M786.3,541.1v-9M112.6,388.2h9M359.4,541.1v-9M874.4,541.1v-9M112.6,303.6h9M447.4,541.1v-9M962.4,541.1v-9M112.6,219.0h9M535.5,541.1v-9M1050.5,541.1v-9M112.6,134.4h9" stroke="#111" stroke-width="1.3" fill="none"/>
<text x="370.3" y="622.8" font-size="39.1" text-anchor="middle" font-family="Liberation Serif, serif" >X position (μm)</text>
<text x="886.1" y="625.3" font-size="39.1" text-anchor="middle" font-family="Liberation Serif, serif" >X position (μm)</text>
<text transform="translate(49.9,300.8) rotate(-90)" font-size="39.1" text-anchor="middle" font-family="Liberation Serif, serif">Y position (μm)</text>
<text x="382" y="124.8" font-size="38" font-family="Liberation Serif, serif"><tspan font-style="italic">V</tspan><tspan font-size="24.6" dy="8">ds</tspan><tspan dy="-8">= 100 mV</tspan></text>
<text x="887" y="124.8" font-size="38" font-family="Liberation Serif, serif"><tspan font-style="italic">V</tspan><tspan font-size="24.6" dy="8">ds</tspan><tspan dy="-8">= -100 mV</tspan></text>
<rect x="1119.5" y="85.7" width="37.299999999999955" height="456.59999999999997" fill="url(#cb)" stroke="#222" stroke-width="1"/>
<text x="1170.0" y="100.6" font-size="30.6" text-anchor="start" font-family="Liberation Serif, serif" >200.0</text>
<text x="1163.3" y="540.4" font-size="30.4" text-anchor="start" font-family="Liberation Serif, serif" >-181.5</text>
<text x="954.3" y="63.6" font-size="38.7" text-anchor="start" font-family="Liberation Serif, serif" >Photocurrent (nA)</text>
<text y="46.4" font-family="Noto Sans CJK SC, Liberation Sans, sans-serif" font-size="55.3"><tspan x="1270.8">(</tspan><tspan x="1294" font-size="50">b</tspan><tspan x="1328.2" font-size="55.3">)</tspan></text>
<path d="M1740.1,50.3V539.1M1436.5,295.6H2043.8" stroke="#7b7b7b" stroke-width="2.1" stroke-dasharray="7.3 4.2" fill="none"/>
<path d="M1436.5,269.5L1439.5,269.4L1442.4,271.1L1445.3,271.4L1448.2,271.5L1451.8,269.6L1455.3,268.5L1458.3,269.5L1461.3,270.4L1464.4,271.8L1467.4,273.0L1470.4,273.5L1473.8,273.3L1477.1,273.7L1480.5,274.9L1483.3,274.3L1486.0,272.5L1488.8,271.9L1491.6,270.3L1494.6,270.7L1497.6,272.6L1500.7,273.9L1503.7,274.1L1506.7,273.5L1509.4,273.9L1512.1,275.9L1514.8,275.9L1517.8,276.1L1520.8,274.9L1524.1,275.1L1527.3,276.1L1530.5,278.0L1533.7,279.7L1537.0,280.0L1540.0,281.6L1543.0,283.6L1546.0,281.3L1549.1,280.0L1551.7,280.5L1554.4,280.5L1557.1,282.0L1559.8,281.6L1562.5,282.1L1565.2,282.4L1567.9,281.7L1570.6,280.6L1573.3,280.4L1575.6,281.3L1578.0,282.6L1580.3,284.4L1583.3,283.9L1586.4,283.1L1589.4,283.0L1592.9,281.7L1596.4,282.6L1600.0,281.6L1603.5,281.0L1606.9,282.6L1610.2,283.1L1613.6,285.0L1616.9,286.3L1620.3,286.6L1623.7,286.4L1627.2,286.8L1630.7,288.4L1634.0,287.3L1637.3,287.1L1640.6,286.2L1643.8,285.0L1646.5,287.1L1649.2,287.6L1651.9,289.0L1654.9,290.6L1658.0,291.3L1661.0,291.7L1664.0,293.1L1666.7,292.6L1669.4,292.4L1672.1,291.1L1675.1,291.6L1678.1,291.1L1681.1,291.1L1684.7,292.2L1688.2,293.1L1691.2,292.9L1694.2,293.9L1697.3,295.5L1700.3,295.7L1703.0,295.1L1705.7,294.3L1708.4,294.5L1711.4,295.6L1714.4,297.0L1717.4,297.7L1721.1,297.6L1724.8,296.7L1728.5,296.5L1731.5,296.2L1734.4,296.1L1737.3,296.4L1740.2,295.7L1743.6,296.2L1746.9,296.5L1750.3,297.1L1753.6,296.8L1757.0,297.3L1760.3,298.6L1763.9,299.3L1767.4,300.2L1770.9,299.9L1774.4,300.2L1777.5,300.4L1780.5,300.4L1783.5,301.4L1786.5,301.8L1789.4,303.3L1792.2,303.6L1795.0,303.9L1797.8,305.1L1800.7,305.2L1803.7,304.0L1806.7,303.8L1810.2,304.3L1813.8,305.6L1817.3,305.4L1820.8,305.8L1824.1,306.2L1827.3,306.4L1830.5,307.3L1833.7,308.5L1837.0,308.2L1840.3,306.9L1843.7,307.8L1847.0,306.8L1849.9,308.3L1852.7,309.3L1855.5,309.9L1858.3,310.9L1861.2,311.3L1864.2,311.1L1867.2,311.1L1870.2,310.7L1873.3,310.7L1876.3,310.2L1879.3,312.0L1882.3,311.8L1885.4,311.5L1888.4,312.3L1891.4,312.7L1894.4,314.3L1897.5,315.9L1900.8,315.0L1904.2,314.3L1907.5,313.9L1910.6,314.2L1913.6,314.6L1916.6,314.8L1919.6,314.7L1922.7,314.3L1925.7,315.3L1928.4,316.0L1931.1,317.0L1933.8,318.7L1936.4,319.1L1939.1,319.7L1941.8,319.3L1944.8,318.6L1947.9,316.9L1950.9,317.6L1953.9,317.8L1956.9,317.0L1960.0,318.2L1963.0,318.0L1966.0,317.9L1969.4,318.3L1972.7,319.4L1976.1,321.3L1978.8,319.8L1981.5,320.4L1984.2,319.3L1986.9,319.9L1989.5,320.7L1992.2,322.3L1995.6,322.9L1999.0,322.8L2002.3,323.4L2005.3,322.4L2008.4,322.3L2011.4,322.6L2014.4,322.3L2017.8,322.8L2021.1,324.0L2024.5,325.4L2027.2,326.3L2029.9,326.4L2032.6,327.0L2036.1,326.3L2039.6,326.3L2043.0,326.0" fill="none" stroke="#515151" stroke-width="3" stroke-linejoin="round" stroke-linecap="butt"/>
<path d="M1436.5,231.6L1439.9,234.4L1443.2,235.6L1446.2,236.9L1449.2,235.9L1452.3,237.2L1455.3,235.5L1458.3,235.2L1461.7,236.9L1465.0,237.9L1468.4,238.6L1471.1,239.3L1473.8,239.0L1476.5,239.6L1479.5,241.3L1482.5,242.8L1485.5,244.1L1488.6,242.8L1491.6,241.3L1494.6,241.9L1497.6,243.7L1500.2,242.7L1502.7,242.1L1505.7,243.1L1508.7,244.9L1511.8,246.5L1514.8,247.7L1517.8,248.2L1520.8,249.3L1523.9,248.9L1526.9,248.7L1529.9,249.8L1532.9,251.7L1535.6,250.1L1538.3,249.3L1541.0,249.3L1543.7,251.7L1546.4,254.0L1549.1,256.8L1552.1,256.9L1555.1,258.1L1558.1,257.9L1561.2,258.2L1564.5,259.8L1567.9,260.8L1571.2,262.8L1573.9,262.2L1576.6,262.9L1579.3,263.4L1582.0,262.3L1584.7,262.4L1587.4,261.8L1590.2,263.4L1593.0,263.6L1595.8,263.5L1598.7,265.4L1601.5,265.4L1604.5,266.7L1607.5,266.9L1609.6,269.8L1611.6,271.9L1613.9,271.1L1616.3,269.4L1618.6,267.5L1621.0,270.0L1623.3,271.2L1625.7,273.5L1628.7,274.7L1631.7,275.0L1634.8,274.0L1637.8,274.9L1641.1,276.4L1644.5,277.3L1647.9,278.0L1651.2,278.2L1654.6,278.7L1658.0,279.0L1660.6,279.1L1663.3,280.1L1666.0,279.6L1669.0,281.3L1672.1,283.0L1674.8,283.4L1677.4,282.3L1680.1,282.4L1683.2,284.0L1686.2,285.1L1689.2,285.3L1692.2,286.5L1695.3,288.1L1698.3,288.4L1701.6,289.4L1705.0,289.5L1708.4,290.1L1711.2,290.2L1714.0,291.0L1716.8,292.2L1719.7,291.9L1722.5,293.1L1725.4,294.2L1728.4,293.6L1731.4,295.1L1734.3,294.5L1737.3,296.0L1740.2,295.7L1743.6,296.6L1746.9,296.9L1750.3,297.5L1753.6,298.3L1757.0,298.7L1760.3,299.2L1763.9,299.0L1767.4,299.0L1770.9,299.6L1774.4,299.8L1777.7,301.6L1780.9,302.1L1784.1,302.3L1787.4,304.7L1790.6,305.2L1793.3,306.9L1796.0,308.6L1798.6,309.2L1801.7,308.0L1804.7,307.8L1807.4,308.9L1810.1,308.4L1812.8,309.8L1815.8,310.0L1818.8,309.2L1821.8,308.9L1824.9,309.2L1827.5,311.2L1830.2,311.3L1832.9,313.3L1835.6,313.6L1838.3,314.5L1841.0,314.3L1843.5,315.1L1846.0,316.3L1848.6,318.7L1851.1,319.3L1854.1,319.7L1857.1,320.3L1859.8,322.9L1862.5,323.8L1865.2,326.8L1868.2,326.0L1871.2,325.2L1874.3,325.6L1877.3,324.8L1880.7,324.1L1884.0,325.5L1887.4,324.8L1890.2,324.9L1893.0,327.0L1895.8,326.7L1898.7,328.1L1901.5,329.4L1904.2,331.1L1906.9,331.1L1909.6,332.8L1913.1,332.9L1916.6,334.0L1920.1,332.6L1923.7,330.4L1926.5,332.0L1929.3,333.3L1932.1,336.7L1935.0,337.1L1937.8,339.5L1940.8,339.0L1943.8,339.7L1946.9,340.4L1949.9,340.5L1952.9,340.9L1955.9,339.8L1959.0,340.2L1962.0,340.5L1965.0,341.5L1968.0,344.1L1971.1,344.5L1974.1,345.6L1977.1,346.0L1980.1,346.1L1983.2,346.2L1986.2,344.9L1989.0,346.4L1991.8,347.6L1994.7,348.4L1997.5,349.1L2000.3,350.2L2003.0,348.5L2005.7,348.0L2008.4,346.5L2011.1,348.6L2013.7,350.6L2016.4,353.6L2019.1,353.2L2021.8,353.6L2024.5,352.6L2027.5,351.7L2030.5,352.2L2033.6,351.7L2036.6,351.6L2038.7,353.3L2040.9,354.3L2043.0,356.6" fill="none" stroke="#f03a42" stroke-width="3" stroke-linejoin="round" stroke-linecap="butt"/>
<path d="M1436.5,200.3L1439.9,200.9L1443.2,202.3L1445.5,204.4L1447.7,206.1L1450.0,208.6L1452.3,210.4L1455.5,210.2L1458.7,208.9L1461.9,208.4L1465.2,209.4L1468.4,208.4L1470.9,207.3L1473.4,207.0L1475.8,209.3L1478.1,213.5L1480.5,215.4L1483.9,215.1L1487.2,215.3L1490.6,214.4L1492.6,216.2L1494.6,218.3L1496.6,219.9L1500.3,218.8L1504.0,219.2L1507.7,218.5L1510.7,221.1L1513.8,222.5L1516.8,224.5L1520.8,223.9L1523.7,225.6L1526.6,226.7L1529.5,226.9L1532.3,229.3L1535.2,230.3L1538.1,231.0L1541.0,232.6L1544.5,231.3L1548.1,231.6L1550.7,234.0L1553.3,235.2L1555.9,237.4L1558.5,239.5L1561.2,240.6L1563.7,240.0L1566.2,238.6L1569.1,240.5L1571.9,240.8L1574.8,242.7L1577.6,243.2L1580.5,245.3L1583.3,245.7L1586.2,247.5L1589.0,247.4L1591.8,248.7L1594.6,250.0L1597.5,251.7L1600.7,253.7L1603.9,253.9L1607.1,255.3L1610.4,255.9L1613.6,257.4L1616.1,256.8L1618.6,256.2L1621.0,257.5L1623.3,259.0L1625.7,260.8L1628.9,261.6L1632.1,262.2L1635.4,263.3L1638.6,263.5L1641.8,263.8L1645.2,265.9L1648.5,267.1L1651.9,267.9L1655.3,270.0L1658.6,270.8L1662.0,271.9L1665.5,271.9L1669.0,273.7L1672.6,274.5L1676.1,274.3L1678.6,276.3L1681.1,277.1L1683.7,278.6L1686.2,279.6L1689.2,279.7L1692.2,281.3L1695.3,281.5L1698.3,282.0L1701.6,282.6L1705.0,283.3L1708.4,285.0L1711.2,286.6L1714.0,287.9L1716.8,287.3L1719.7,289.6L1722.5,290.1L1725.4,290.8L1728.4,291.3L1731.4,292.5L1734.3,294.3L1737.3,295.4L1740.2,295.7L1743.6,295.7L1746.9,297.4L1750.3,297.2L1753.6,299.0L1757.0,299.1L1760.3,300.2L1763.7,301.7L1767.1,302.7L1770.4,302.7L1773.8,304.4L1777.1,304.0L1780.5,305.2L1783.9,305.5L1787.2,307.4L1790.6,308.2L1793.1,309.2L1795.6,311.2L1798.1,313.4L1800.7,315.3L1804.0,315.1L1807.4,314.0L1810.7,314.3L1813.6,314.7L1816.4,317.3L1819.2,317.6L1822.0,319.9L1824.9,320.3L1827.9,321.8L1830.9,321.6L1833.9,322.5L1837.0,323.4L1839.6,324.4L1842.3,325.6L1845.0,326.4L1848.1,326.3L1851.1,326.0L1853.6,327.6L1856.1,329.2L1858.6,331.3L1861.2,332.0L1863.8,331.8L1866.5,331.5L1869.2,331.4L1871.9,332.3L1874.6,331.9L1877.3,332.8L1880.1,334.2L1882.9,337.1L1885.8,338.1L1888.6,339.9L1891.4,341.5L1894.4,341.2L1897.5,342.5L1900.0,340.9L1902.5,339.5L1904.8,341.2L1907.2,341.8L1909.6,344.1L1911.8,346.3L1914.1,348.4L1916.4,349.4L1918.6,352.2L1922.3,352.0L1926.0,351.3L1929.7,351.0L1932.4,351.5L1935.1,351.1L1937.8,351.6L1940.3,351.2L1942.8,350.2L1945.9,353.0L1948.9,355.0L1951.4,354.0L1953.9,354.6L1956.6,355.3L1959.3,357.9L1962.0,359.0L1965.0,360.8L1968.0,360.5L1971.1,361.8L1974.1,363.0L1977.1,363.4L1980.1,364.7L1982.8,365.9L1985.5,367.3L1988.2,369.1L1991.2,368.5L1994.2,368.3L1997.3,369.2L2000.3,369.7L2002.8,371.7L2005.3,374.1L2007.9,377.0L2010.4,378.8L2013.1,377.7L2015.8,378.3L2018.4,377.8L2021.8,378.2L2025.2,377.5L2028.5,377.8L2031.2,378.7L2033.9,381.0L2036.6,381.8L2039.8,381.4L2043.0,381.8" fill="none" stroke="#1565e0" stroke-width="3" stroke-linejoin="round" stroke-linecap="butt"/>
<path d="M1436.5,171.1L1438.9,169.4L1441.2,168.7L1444.7,169.7L1448.2,172.1L1451.0,173.5L1453.7,174.7L1456.4,176.1L1459.2,178.3L1461.9,180.7L1464.7,182.1L1467.4,183.2L1469.9,183.8L1472.4,183.6L1475.2,184.7L1477.9,186.9L1480.6,188.0L1483.4,189.5L1486.1,191.0L1488.9,192.8L1491.6,194.9L1494.6,194.8L1497.6,193.3L1500.2,194.6L1502.7,194.9L1505.4,197.4L1508.1,199.4L1510.7,200.9L1514.0,200.1L1517.2,200.3L1518.9,203.0L1520.5,206.6L1522.2,209.8L1523.9,212.4L1526.9,212.3L1529.9,211.0L1532.7,212.3L1535.4,211.5L1538.2,213.0L1541.0,213.4L1544.0,213.5L1547.0,213.0L1550.1,215.2L1553.1,217.5L1555.8,218.3L1558.5,220.1L1561.2,221.5L1563.8,221.6L1566.5,223.8L1569.2,223.9L1571.9,225.1L1574.6,225.1L1577.3,225.5L1580.3,226.7L1583.3,228.5L1586.4,230.4L1589.4,231.0L1592.4,232.7L1595.4,233.2L1597.8,235.6L1600.1,236.8L1602.5,238.6L1606.0,240.0L1609.6,241.7L1611.9,243.8L1614.3,245.6L1616.6,247.7L1620.1,246.3L1623.7,246.1L1625.7,247.4L1627.7,249.3L1630.2,249.0L1632.7,247.7L1635.3,248.9L1637.8,251.7L1640.5,252.3L1643.2,254.6L1645.9,255.8L1648.7,257.1L1651.5,259.2L1654.3,260.8L1657.1,262.3L1660.0,264.2L1662.5,264.7L1665.0,263.4L1668.5,264.1L1672.1,265.9L1674.9,267.1L1677.7,268.2L1680.5,270.3L1683.4,271.1L1686.2,272.9L1689.4,273.9L1692.6,275.7L1695.9,276.2L1699.1,277.8L1702.3,279.0L1705.0,280.8L1707.7,280.6L1710.4,281.7L1713.1,283.2L1715.8,285.3L1718.4,286.0L1721.6,287.6L1724.7,288.3L1727.8,289.9L1730.9,291.0L1734.0,292.9L1737.1,293.5L1740.2,295.7L1743.4,297.3L1746.7,299.0L1749.9,300.4L1753.1,301.3L1756.3,302.2L1759.1,304.2L1761.9,303.8L1764.8,305.5L1767.6,307.8L1770.4,308.2L1773.8,310.0L1777.1,310.8L1780.5,312.3L1783.3,313.6L1786.1,313.7L1789.0,314.6L1791.8,314.3L1794.6,315.3L1797.6,316.8L1800.7,319.3L1803.2,320.5L1805.7,321.2L1808.2,322.9L1810.7,324.4L1813.8,326.9L1816.8,327.6L1819.8,328.8L1822.8,331.4L1826.4,330.3L1829.9,330.8L1832.7,331.7L1835.4,334.1L1838.2,334.8L1841.0,336.5L1844.4,337.5L1847.7,338.5L1851.1,340.5L1854.1,340.3L1857.1,338.5L1859.1,340.4L1861.2,342.0L1863.2,343.8L1865.2,346.5L1868.2,346.8L1871.2,348.0L1874.3,349.9L1877.3,350.6L1881.3,351.0L1883.7,351.7L1886.0,352.9L1888.4,355.0L1890.9,352.8L1893.4,350.6L1895.4,352.8L1897.5,356.8L1899.5,358.6L1902.2,359.7L1904.8,362.1L1907.5,363.7L1910.6,365.3L1913.6,365.9L1916.6,368.0L1919.6,368.3L1923.0,369.2L1926.4,369.8L1929.7,371.1L1932.4,371.4L1935.1,371.2L1937.8,372.4L1940.2,373.9L1942.6,375.3L1945.0,378.1L1947.5,379.7L1949.9,380.8L1952.6,382.5L1955.3,383.4L1958.0,385.9L1960.6,385.7L1963.3,385.8L1966.0,386.5L1968.8,387.2L1971.7,388.4L1974.5,390.7L1977.3,390.7L1980.1,392.5L1982.8,393.1L1985.5,395.9L1988.2,396.6L1990.9,396.5L1993.6,397.0L1996.3,396.0L1999.0,397.8L2001.6,400.7L2004.3,402.0L2007.4,402.3L2010.4,402.0L2012.9,404.0L2015.4,405.4L2017.9,406.5L2020.5,408.1L2023.5,407.1L2026.5,407.4L2029.2,409.2L2031.9,412.5L2034.6,414.1L2037.4,415.8L2040.2,416.8L2043.0,417.1" fill="none" stroke="#21a366" stroke-width="3" stroke-linejoin="round" stroke-linecap="butt"/>
<path d="M1436.5,138.8L1438.7,141.2L1440.8,143.7L1442.9,146.0L1445.1,148.4L1447.2,149.9L1449.7,150.8L1452.3,150.9L1455.0,153.4L1457.8,153.6L1460.6,156.1L1463.4,158.0L1467.4,157.4L1469.9,160.1L1472.4,161.6L1475.0,164.1L1477.5,165.4L1481.0,166.1L1484.5,168.1L1487.0,168.3L1489.6,168.7L1492.1,170.1L1494.6,172.5L1497.1,174.4L1499.7,176.1L1502.5,176.5L1505.4,178.0L1508.2,179.3L1511.1,181.5L1513.9,182.4L1516.8,183.2L1519.8,184.6L1522.8,187.2L1525.4,189.2L1527.9,189.6L1530.4,191.9L1532.9,193.3L1536.0,194.1L1539.0,195.4L1542.0,198.4L1545.0,199.3L1548.1,199.6L1551.1,200.3L1554.1,202.4L1557.1,202.3L1559.6,204.7L1562.2,205.5L1564.7,208.4L1567.2,209.4L1570.0,210.7L1572.9,212.1L1575.7,212.5L1578.5,215.0L1581.3,215.4L1584.1,217.4L1587.0,219.5L1589.8,220.9L1592.6,221.5L1595.4,223.5L1598.5,224.0L1601.5,224.4L1604.5,225.2L1607.5,226.5L1610.0,227.4L1612.4,229.4L1614.8,231.5L1617.2,232.1L1619.6,234.6L1622.2,236.4L1624.7,237.3L1627.2,238.8L1629.7,240.6L1632.4,242.2L1635.1,242.6L1637.8,243.7L1640.5,245.4L1643.2,247.7L1645.9,249.7L1648.9,251.1L1651.9,251.0L1654.9,253.6L1658.0,253.8L1660.5,254.2L1663.0,256.7L1665.5,258.1L1668.0,258.8L1670.9,259.4L1673.7,262.1L1676.5,262.8L1679.3,264.6L1682.1,265.9L1684.7,266.5L1687.2,268.1L1689.7,269.8L1692.2,271.9L1694.8,274.4L1697.3,274.9L1699.8,277.6L1702.3,279.0L1705.7,280.4L1709.0,281.1L1712.4,281.0L1714.9,282.2L1717.4,283.8L1720.0,285.6L1722.5,287.0L1725.4,288.9L1728.4,289.2L1731.4,291.8L1734.3,293.3L1737.3,294.9L1740.2,295.7L1743.0,296.6L1745.8,299.9L1748.7,300.1L1751.5,302.2L1754.3,304.2L1757.3,305.4L1760.3,306.9L1763.4,307.0L1766.4,308.2L1768.8,310.6L1771.2,311.5L1773.6,312.8L1776.1,314.4L1778.5,316.3L1781.5,316.8L1784.5,317.6L1787.6,318.7L1790.6,320.3L1793.1,322.2L1795.6,324.2L1798.1,324.3L1800.7,326.4L1803.1,327.2L1805.5,330.4L1807.9,331.3L1810.3,332.7L1812.8,334.4L1815.4,335.3L1818.1,337.3L1820.8,338.5L1823.9,340.0L1826.9,340.4L1829.9,341.4L1832.9,342.5L1835.6,343.4L1838.3,346.6L1841.0,347.6L1843.4,348.5L1845.8,351.0L1848.3,353.3L1850.7,353.9L1853.1,356.2L1856.1,358.2L1859.1,360.2L1862.2,361.3L1865.2,362.7L1867.9,364.2L1870.6,364.0L1873.3,365.7L1875.9,366.3L1878.6,366.5L1881.3,367.7L1883.3,370.3L1885.4,371.4L1887.4,373.8L1890.7,375.0L1894.1,377.3L1897.5,377.8L1900.0,379.9L1902.5,381.6L1905.0,382.3L1907.5,383.9L1910.6,384.1L1913.6,384.5L1916.3,386.7L1919.0,388.1L1921.7,389.9L1924.2,391.3L1926.7,393.3L1929.2,394.6L1931.7,397.0L1934.8,396.5L1937.8,396.6L1940.8,398.6L1943.8,399.0L1946.5,402.1L1949.2,403.9L1951.9,406.0L1954.4,407.9L1956.9,409.5L1959.5,410.9L1962.0,413.5L1965.0,413.1L1968.0,413.5L1971.4,415.2L1974.8,416.5L1978.1,417.1L1980.8,418.9L1983.5,421.6L1986.2,423.2L1988.9,424.3L1991.6,424.8L1994.2,425.2L1996.9,426.8L1999.6,428.3L2002.3,429.2L2005.0,429.8L2007.7,431.2L2010.4,431.6L2012.8,433.2L2015.2,435.5L2017.6,437.9L2020.1,439.7L2022.5,441.3L2025.8,442.5L2029.2,445.0L2032.6,445.8L2036.1,447.1L2039.6,448.0L2043.0,449.0" fill="none" stroke="#b56fe3" stroke-width="3" stroke-linejoin="round" stroke-linecap="butt"/>
<path d="M1436.5,100.5L1439.4,100.8L1442.2,100.1L1443.9,103.1L1445.5,105.0L1447.2,107.6L1450.6,108.5L1453.9,109.4L1457.3,111.6L1459.3,114.2L1461.3,116.2L1463.4,118.6L1466.2,120.4L1469.1,121.1L1471.9,123.1L1474.8,123.6L1477.6,125.9L1480.5,126.7L1483.0,128.7L1485.5,129.8L1488.1,131.7L1490.6,133.6L1493.1,134.4L1495.6,136.6L1498.1,138.7L1500.7,139.8L1503.7,141.9L1506.7,144.9L1509.5,147.6L1512.3,149.7L1515.0,152.3L1517.8,153.9L1520.8,154.2L1523.9,154.9L1526.1,157.0L1528.4,161.0L1530.7,163.8L1532.9,166.0L1536.0,166.2L1539.0,166.6L1542.5,167.7L1546.0,170.1L1548.8,170.4L1551.6,172.0L1554.4,172.3L1557.1,173.5L1559.8,175.8L1562.5,176.7L1565.2,178.1L1567.5,179.6L1569.8,182.4L1572.1,183.9L1574.4,186.9L1576.7,188.9L1579.0,190.3L1581.3,192.2L1583.8,194.5L1586.4,196.6L1588.9,198.8L1591.4,200.3L1594.4,202.5L1597.5,202.2L1600.5,204.2L1603.5,205.8L1606.1,207.6L1608.7,208.8L1611.3,210.9L1613.9,211.7L1616.5,214.8L1619.1,215.8L1621.7,217.5L1624.3,219.2L1627.0,222.4L1629.7,224.5L1632.7,225.5L1635.8,226.5L1638.8,228.3L1641.8,229.6L1644.3,230.7L1646.9,232.6L1649.4,235.5L1651.9,236.6L1653.7,239.3L1655.4,240.5L1657.2,244.2L1659.0,246.1L1661.5,245.9L1664.0,247.3L1667.0,248.6L1670.1,251.2L1673.1,252.3L1676.1,253.8L1678.6,255.3L1681.1,257.4L1683.7,259.3L1686.2,261.4L1689.7,260.0L1693.2,259.8L1696.3,262.2L1699.3,262.8L1701.6,264.4L1704.0,267.4L1706.3,269.9L1709.0,272.5L1711.7,274.1L1714.4,277.3L1717.1,278.2L1719.8,281.6L1722.5,283.0L1725.5,285.3L1728.5,286.6L1731.6,288.0L1733.7,290.6L1735.9,291.8L1738.1,294.3L1740.2,295.7L1743.0,297.1L1745.8,297.5L1748.7,298.3L1751.5,299.6L1754.3,300.2L1756.6,301.9L1759.0,303.2L1761.3,306.1L1763.7,307.2L1766.0,309.4L1768.4,311.3L1771.4,313.3L1774.4,313.7L1777.5,315.0L1780.5,317.3L1783.0,318.2L1785.5,320.5L1788.1,321.6L1790.6,323.4L1793.6,324.5L1796.6,326.4L1799.0,328.3L1801.5,331.1L1803.9,332.0L1806.3,334.3L1808.7,336.5L1811.8,338.1L1814.8,338.5L1817.5,340.7L1820.2,342.1L1822.8,344.5L1825.9,345.5L1828.9,346.5L1831.3,348.3L1833.7,349.6L1836.2,351.8L1838.6,353.5L1841.0,355.6L1843.3,358.1L1845.7,359.2L1848.1,361.6L1850.4,364.1L1852.8,365.9L1855.1,367.1L1859.1,366.7L1861.7,368.8L1864.2,371.4L1866.7,373.2L1869.2,375.8L1871.9,376.6L1874.6,377.8L1877.3,378.8L1880.0,380.8L1882.7,382.5L1885.4,383.2L1888.0,383.4L1890.7,383.5L1893.4,384.9L1896.2,386.8L1899.1,388.1L1901.9,390.1L1904.7,393.4L1907.5,394.9L1910.0,396.5L1912.4,399.8L1914.8,401.4L1917.2,404.6L1919.6,406.0L1922.7,408.1L1925.7,409.1L1929.7,408.1L1932.4,409.3L1935.1,411.6L1937.8,414.1L1940.8,415.6L1943.8,415.5L1946.5,417.6L1949.2,419.1L1951.9,421.2L1953.9,423.9L1955.9,426.1L1958.0,427.8L1960.0,430.0L1962.0,432.2L1964.7,432.6L1967.4,434.0L1970.1,435.3L1974.1,434.9L1976.8,436.8L1979.5,440.1L1982.1,442.3L1984.7,445.0L1987.2,446.8L1989.7,450.1L1992.2,452.4L1994.9,453.4L1997.6,455.1L2000.3,457.5L2004.3,456.4L2006.3,458.9L2008.4,460.8L2010.4,463.8L2012.4,465.5L2014.4,467.5L2017.4,467.9L2020.5,467.5L2023.2,469.3L2025.8,472.8L2028.5,474.6L2031.6,476.4L2034.6,479.6L2037.4,479.5L2040.2,479.7L2043.0,478.6" fill="none" stroke="#c9970c" stroke-width="3" stroke-linejoin="round" stroke-linecap="butt"/>
<rect x="1489.5" y="301.6" width="231.0999999999999" height="185.29999999999995" fill="#fff" stroke="#1a1a1a" stroke-width="1.4"/>
<text x="1489.5" y="506.5" font-size="14.5" text-anchor="middle" font-family="Liberation Serif, serif" font-weight="bold">0</text>
<text x="1531.5" y="506.5" font-size="14.5" text-anchor="middle" font-family="Liberation Serif, serif" font-weight="bold">10</text>
<text x="1573.5" y="506.5" font-size="14.5" text-anchor="middle" font-family="Liberation Serif, serif" font-weight="bold">20</text>
<text x="1615.5" y="506.5" font-size="14.5" text-anchor="middle" font-family="Liberation Serif, serif" font-weight="bold">30</text>
<text x="1657.5" y="506.5" font-size="14.5" text-anchor="middle" font-family="Liberation Serif, serif" font-weight="bold">40</text>
<text x="1699.5" y="506.5" font-size="14.5" text-anchor="middle" font-family="Liberation Serif, serif" font-weight="bold">50</text>
<text x="1484.5" y="491.7" font-size="14.5" text-anchor="end" font-family="Liberation Serif, serif" font-weight="bold">0</text>
<text x="1484.5" y="434.5" font-size="14.5" text-anchor="end" font-family="Liberation Serif, serif" font-weight="bold">1</text>
<text x="1484.5" y="377.3" font-size="14.5" text-anchor="end" font-family="Liberation Serif, serif" font-weight="bold">2</text>
<text x="1484.5" y="320.1" font-size="14.5" text-anchor="end" font-family="Liberation Serif, serif" font-weight="bold">3</text>
<path d="M1531.5,486.9v-3.5M1573.5,486.9v-3.5M1615.5,486.9v-3.5M1657.5,486.9v-3.5M1699.5,486.9v-3.5M1489.5,429.7h3.5M1489.5,372.5h3.5M1489.5,315.3h3.5" stroke="#1a1a1a" stroke-width="1.3" fill="none"/>
<path d="M1489.5,486.9L1691.1,324.0" stroke="#f80a10" stroke-width="1.9" fill="none"/>
<circle cx="1489.5" cy="486.9" r="6" fill="url(#ball)"/>
<circle cx="1523.1" cy="460.8" r="6" fill="url(#ball)"/>
<circle cx="1556.7" cy="433.4" r="6" fill="url(#ball)"/>
<circle cx="1590.3" cy="407.2" r="6" fill="url(#ball)"/>
<circle cx="1623.9" cy="379.2" r="6" fill="url(#ball)"/>
<circle cx="1657.5" cy="350.7" r="6" fill="url(#ball)"/>
<circle cx="1691.1" cy="324.0" r="6" fill="url(#ball)"/>
<path d="M1489.5,486.9L1691.1,324.0" stroke="#f80a10" stroke-width="1.9" fill="none"/>
<rect x="1492.3" y="303.4" width="154.9" height="53.8" fill="#fff" stroke="#6a6a6a" stroke-width="0.9"/>
<circle cx="1518" cy="317.6" r="6" fill="url(#ball)"/>
<text x="1547.0" y="324.6" font-size="20.6" text-anchor="start" font-family="Liberation Serif, serif" >Experiment</text>
<path d="M1494.3,343.2H1541.5" stroke="#f80a10" stroke-width="1.9"/>
<text x="1547.0" y="349.8" font-size="20.6" text-anchor="start" font-family="Liberation Serif, serif" >Fit</text>
<text x="1599.6" y="527.6" font-size="24.4" text-anchor="middle" font-family="Liberation Serif, serif" font-weight="bold">Power (μW)</text>
<text transform="translate(1466,392) rotate(-90)" font-size="24" text-anchor="middle" font-weight="bold" font-family="Liberation Serif, serif">|<tspan font-style="italic">G</tspan>|<tspan font-size="17" dy="6">ph</tspan><tspan dy="-6"> (μS)</tspan></text>
<path d="M1567.9,433.5V480.5M1618.6,433.5V480.5" stroke="#ec1c24" stroke-width="1.5"/>
<text x="1572.5" y="464.5" font-size="29" fill="#ec1c24" font-family="Liberation Serif, serif"><tspan font-style="italic">G</tspan><tspan font-size="19" dy="8.5">ph</tspan></text>
<text x="1625.3" y="468.6" font-size="40" fill="#ec1c24" font-family="Liberation Serif, serif">∝</text>
<text x="1659" y="464.5" font-size="29" fill="#ec1c24" font-family="Liberation Serif, serif"><tspan font-style="italic">P</tspan><tspan font-size="17" dy="-14" dx="2">1.03</tspan></text>
<rect x="1436.5" y="50.3" width="607.3" height="488.8" fill="none" stroke="#000" stroke-width="3.3"/>
<text x="1436.7" y="574.3" font-size="32" text-anchor="middle" font-family="Liberation Serif, serif" >-200</text>
<text x="1588.4" y="574.3" font-size="32" text-anchor="middle" font-family="Liberation Serif, serif" >-100</text>
<text x="1740.1" y="574.3" font-size="32" text-anchor="middle" font-family="Liberation Serif, serif" >0</text>
<text x="1891.8" y="574.3" font-size="32" text-anchor="middle" font-family="Liberation Serif, serif" >100</text>
<text x="2043.5" y="574.3" font-size="32" text-anchor="middle" font-family="Liberation Serif, serif" >200</text>
<text x="1424.5" y="61.5" font-size="32" text-anchor="end" font-family="Liberation Serif, serif" >600</text>
<text x="1424.5" y="142.7" font-size="32" text-anchor="end" font-family="Liberation Serif, serif" >400</text>
<text x="1424.5" y="224.0" font-size="32" text-anchor="end" font-family="Liberation Serif, serif" >200</text>
<text x="1424.5" y="305.2" font-size="32" text-anchor="end" font-family="Liberation Serif, serif" >0</text>
<text x="1424.5" y="386.4" font-size="32" text-anchor="end" font-family="Liberation Serif, serif" >-200</text>
<text x="1424.5" y="467.7" font-size="32" text-anchor="end" font-family="Liberation Serif, serif" >-400</text>
<text x="1424.5" y="548.9" font-size="32" text-anchor="end" font-family="Liberation Serif, serif" >-600</text>
<path d="M1588.4,539.1v-8.5M1740.1,539.1v-8.5M1891.8,539.1v-8.5M1436.5,132.1h8.5M1436.5,213.4h8.5M1436.5,294.6h8.5M1436.5,375.8h8.5M1436.5,457.1h8.5" stroke="#000" stroke-width="3.3" fill="none"/>
<rect x="1883.3" y="55.1" width="153.8" height="229.2" fill="#fff" stroke="#555" stroke-width="0.9"/>
<path d="M1887.5,77.5H1949.5" stroke="#515151" stroke-width="3.4" stroke-linecap="round"/>
<text x="1956.5" y="86.7" font-size="26.5" text-anchor="start" font-family="Liberation Serif, serif" >8 <tspan dx="0.8">μ</tspan><tspan dx="3.6">W</tspan></text>
<path d="M1887.5,115.0H1949.5" stroke="#f03a42" stroke-width="3.4" stroke-linecap="round"/>
<text x="1956.5" y="124.2" font-size="26.5" text-anchor="start" font-family="Liberation Serif, serif" >16 <tspan dx="0.8">μ</tspan><tspan dx="3.6">W</tspan></text>
<path d="M1887.5,152.6H1949.5" stroke="#1565e0" stroke-width="3.4" stroke-linecap="round"/>
<text x="1956.5" y="161.8" font-size="26.5" text-anchor="start" font-family="Liberation Serif, serif" >24 <tspan dx="0.8">μ</tspan><tspan dx="3.6">W</tspan></text>
<path d="M1887.5,190.1H1949.5" stroke="#21a366" stroke-width="3.4" stroke-linecap="round"/>
<text x="1956.5" y="199.3" font-size="26.5" text-anchor="start" font-family="Liberation Serif, serif" >32 <tspan dx="0.8">μ</tspan><tspan dx="3.6">W</tspan></text>
<path d="M1887.5,227.6H1949.5" stroke="#b56fe3" stroke-width="3.4" stroke-linecap="round"/>
<text x="1956.5" y="236.8" font-size="26.5" text-anchor="start" font-family="Liberation Serif, serif" >40 <tspan dx="0.8">μ</tspan><tspan dx="3.6">W</tspan></text>
<path d="M1887.5,265.1H1949.5" stroke="#c9970c" stroke-width="3.4" stroke-linecap="round"/>
<text x="1956.5" y="274.3" font-size="26.5" text-anchor="start" font-family="Liberation Serif, serif" >48 <tspan dx="0.8">μ</tspan><tspan dx="3.6">W</tspan></text>
<text x="1669.0" y="625.0" font-size="41" font-style="italic" font-family="Liberation Serif, serif">V</text><text x="1691.2" y="635.6" font-size="27.5" font-family="Liberation Serif, serif">ds</text><text x="1726.6" y="625.0" font-size="41" font-family="Liberation Serif, serif">(mV)</text>
<g transform="translate(1353.1,359.3) rotate(-90)"><text x="1" y="0" font-size="41" font-style="italic" font-family="Liberation Serif, serif">I</text><text x="16.8" y="7.8" font-size="29" font-family="Liberation Serif, serif">ph</text><text x="52.1" y="0" font-size="41" font-family="Liberation Serif, serif">(nA)</text></g>
<text y="740.2" font-family="Noto Sans CJK SC, Liberation Sans, sans-serif" font-size="55.3"><tspan x="-4.1">(</tspan><tspan x="19.2" font-size="51">c</tspan><tspan x="47" font-size="55.3">)</tspan></text>
<path d="M588.4,749.3V1243.6M281.5,998.1H895.1" stroke="#7b7b7b" stroke-width="2.1" stroke-dasharray="7.3 4.2" fill="none"/>
<path d="M281.5,786.8L284.1,789.4L286.6,791.4L289.2,793.4L292.2,795.3L295.2,797.1L298.2,798.5L300.0,800.5L301.8,803.1L303.5,805.6L305.3,807.5L308.8,808.4L312.3,808.5L314.3,810.6L316.4,812.3L318.4,814.5L320.4,816.6L323.9,817.2L327.5,817.0L329.8,818.7L332.2,820.9L334.5,823.1L337.5,824.3L340.6,824.7L342.8,826.6L345.1,828.4L347.4,830.6L349.6,832.7L353.2,834.6L356.7,835.8L359.0,838.1L361.2,840.7L363.5,843.4L365.8,845.8L368.3,847.1L370.8,847.8L372.8,850.2L374.8,852.2L376.8,854.9L379.9,856.0L382.9,856.9L385.6,858.2L388.3,859.9L391.0,862.0L394.0,863.4L397.0,865.4L399.7,867.7L402.4,869.4L405.1,871.9L407.8,873.6L410.4,875.6L413.1,878.1L414.9,879.9L416.7,882.8L418.4,885.2L420.2,887.2L423.2,887.7L426.2,888.8L428.8,890.3L431.3,891.8L433.8,894.1L436.3,895.6L438.8,897.2L441.4,899.3L443.6,901.3L445.9,903.2L448.2,905.0L450.4,906.9L453.9,906.8L457.5,907.3L460.5,908.7L463.5,909.7L466.0,911.5L468.6,913.0L471.1,914.4L473.6,916.4L475.6,919.0L477.6,921.2L479.7,923.2L481.7,925.7L483.7,927.5L486.2,929.5L488.7,931.2L491.2,932.9L493.8,935.1L496.3,935.6L498.8,935.9L501.0,938.3L503.2,940.6L505.5,943.4L507.7,945.6L509.9,947.6L513.3,948.6L516.6,950.7L520.0,951.7L522.5,953.2L525.0,955.8L527.5,957.5L530.0,959.7L533.1,961.5L536.1,962.8L538.4,965.0L540.8,966.5L543.2,968.5L545.5,969.7L547.9,972.1L550.2,973.8L553.0,974.9L555.9,976.6L558.7,977.9L561.5,979.1L564.3,980.9L567.7,982.1L571.0,982.5L574.4,983.9L577.4,986.2L580.4,989.0L583.1,990.9L585.8,993.8L588.5,996.0L590.7,998.2L592.9,1000.4L595.2,1003.2L597.2,1004.8L599.2,1007.0L601.2,1009.2L603.2,1011.2L605.6,1012.4L608.1,1014.0L610.5,1016.2L612.9,1017.7L615.3,1019.3L617.8,1020.7L620.4,1022.7L622.9,1024.3L625.4,1026.4L628.1,1028.2L630.8,1030.3L633.5,1032.4L636.0,1032.4L638.5,1032.8L640.9,1034.4L643.2,1036.3L645.6,1038.5L648.1,1040.5L650.6,1043.0L653.1,1045.6L655.6,1047.5L658.7,1049.4L661.7,1051.0L664.2,1051.2L666.7,1051.6L669.3,1052.7L672.0,1054.5L674.6,1056.5L677.2,1057.9L679.8,1059.6L682.5,1062.3L685.2,1064.7L687.9,1066.7L690.6,1068.4L693.3,1070.3L696.0,1072.3L698.2,1074.5L700.5,1077.2L702.8,1079.1L705.0,1081.8L708.6,1081.6L712.1,1081.8L714.8,1083.8L717.5,1085.0L720.1,1086.8L722.7,1088.3L725.2,1088.9L727.5,1091.3L729.7,1094.2L732.0,1096.4L734.3,1098.9L736.9,1100.3L739.6,1102.4L742.3,1104.0L744.6,1105.5L746.9,1107.9L749.1,1109.4L751.4,1111.0L754.4,1111.9L757.4,1112.6L760.2,1114.6L763.0,1115.9L765.8,1117.9L768.5,1119.1L771.0,1121.6L773.6,1123.3L776.1,1125.7L778.6,1128.2L781.1,1128.8L783.6,1128.8L785.7,1130.6L787.7,1133.6L789.7,1134.9L791.7,1137.7L793.7,1139.7L796.2,1140.8L798.8,1141.7L801.5,1143.1L804.1,1144.9L806.8,1146.3L809.9,1147.4L812.9,1148.3L814.9,1150.4L816.9,1152.6L818.9,1154.6L820.9,1157.3L823.0,1159.4L826.0,1160.8L829.0,1161.4L831.0,1163.4L833.0,1166.0L835.0,1167.7L837.1,1169.9L840.1,1171.3L843.1,1173.1L845.8,1175.7L848.5,1178.1L851.2,1180.0L854.2,1180.4L857.2,1181.6L859.8,1183.9L862.5,1185.3L865.1,1187.6L867.7,1189.1L870.3,1191.3L872.7,1194.5L875.0,1196.8L877.4,1199.7L881.4,1199.7L883.9,1198.3L886.5,1197.3L889.1,1197.9L891.8,1198.9L894.5,1200.1" fill="none" stroke="#4d4d4d" stroke-width="3" stroke-linejoin="round"/>
<path d="M281.5,883.7L284.4,884.3L287.3,885.6L290.3,886.4L293.2,887.2L295.7,888.9L298.2,890.4L300.7,892.7L303.3,894.2L306.5,895.5L309.8,896.2L313.1,897.2L316.4,898.2L319.4,899.0L322.4,899.8L325.4,901.2L328.5,902.3L331.5,902.4L334.5,901.9L337.5,902.3L340.6,903.9L343.6,904.7L346.6,906.3L349.6,906.9L352.7,907.6L355.7,909.3L358.7,909.7L361.5,911.3L364.3,912.7L367.2,913.8L370.0,914.6L372.8,916.4L375.6,917.6L378.5,919.0L381.3,920.0L384.1,922.1L386.9,923.0L389.6,923.7L392.3,924.3L395.0,925.5L398.0,927.2L401.0,927.9L404.1,930.1L407.1,931.1L410.1,932.1L413.1,933.3L416.2,934.2L419.2,935.4L422.2,936.2L425.2,937.6L428.2,939.1L431.3,941.7L434.3,943.1L437.3,945.2L440.3,946.2L443.4,946.6L446.1,946.4L448.7,947.1L451.4,946.6L454.5,948.5L457.5,949.9L460.5,951.3L463.9,951.8L467.2,951.9L470.6,952.1L472.9,953.8L475.3,954.8L477.6,956.7L480.7,958.7L483.7,961.0L486.7,962.8L489.5,963.0L492.3,964.1L495.0,964.6L497.8,964.8L501.2,966.0L504.5,967.3L507.9,968.8L510.4,970.0L512.9,971.2L515.4,973.0L518.0,973.8L521.5,974.5L525.0,975.5L527.8,976.9L530.6,978.8L533.3,981.2L536.1,982.9L539.3,984.3L542.5,984.8L545.8,985.7L549.0,986.7L552.2,987.6L555.0,988.7L557.9,989.1L560.7,990.3L563.5,991.1L566.3,992.0L569.5,992.7L572.7,992.9L575.8,993.4L579.0,994.2L582.2,995.2L585.3,995.3L588.5,996.0L591.0,997.9L593.6,999.5L596.1,1001.2L598.7,1003.0L601.2,1005.2L604.2,1006.8L607.3,1008.2L610.3,1009.2L613.3,1010.6L616.0,1011.7L618.7,1012.5L621.4,1013.3L624.4,1014.1L627.4,1014.7L630.4,1014.7L633.5,1015.3L636.8,1017.3L640.2,1018.8L643.5,1019.9L646.6,1021.6L649.6,1023.5L652.6,1024.7L655.6,1026.4L658.7,1027.0L661.7,1027.6L664.7,1029.0L667.7,1029.4L670.6,1030.6L673.4,1032.0L676.3,1034.2L679.2,1035.7L682.0,1036.9L684.9,1038.5L687.6,1039.3L690.4,1039.1L693.2,1039.8L696.0,1040.5L699.3,1041.5L702.7,1042.8L706.0,1044.1L709.1,1045.3L712.1,1046.7L715.1,1048.5L718.1,1050.2L721.2,1050.9L724.2,1051.0L726.9,1052.7L729.6,1053.9L732.2,1055.0L735.3,1055.3L738.3,1055.6L741.1,1056.6L743.9,1058.4L746.8,1059.2L749.6,1060.6L752.4,1061.6L755.1,1062.9L757.8,1064.7L760.5,1066.7L763.3,1067.8L766.1,1068.6L768.9,1069.4L771.8,1070.0L774.6,1070.7L778.1,1071.5L781.6,1072.3L784.7,1074.0L787.7,1075.9L790.7,1077.2L793.7,1077.3L796.7,1077.8L799.3,1079.1L801.8,1080.1L804.3,1081.8L806.8,1082.8L809.6,1083.5L812.5,1085.2L815.3,1086.6L818.1,1086.9L820.9,1088.5L824.0,1088.7L827.0,1088.9L829.7,1090.9L832.4,1092.9L835.0,1094.5L838.4,1095.7L841.8,1096.6L845.1,1097.9L848.2,1097.4L851.2,1097.4L854.2,1096.5L856.5,1098.6L858.7,1099.6L861.0,1101.3L863.3,1103.4L866.0,1103.9L868.6,1104.7L871.3,1106.0L874.4,1107.1L877.4,1108.0L880.4,1109.8L883.4,1110.6L886.2,1112.0L889.0,1112.7L891.7,1114.3L894.5,1115.5" fill="none" stroke="#f03a42" stroke-width="3" stroke-linejoin="round"/>
<path d="M281.5,923.0L284.4,924.2L287.3,924.5L290.3,925.3L293.2,926.5L296.7,926.8L300.2,926.5L303.3,927.4L306.3,928.6L309.3,930.0L312.3,931.1L315.4,931.0L318.4,931.3L321.4,930.9L324.4,931.1L327.3,932.5L330.1,933.2L332.9,934.4L335.7,935.7L338.5,936.5L341.4,937.3L344.2,938.2L347.0,938.7L349.8,939.0L352.7,940.0L355.3,940.4L358.0,940.4L360.7,940.6L363.7,941.5L366.8,942.4L369.8,943.8L372.8,944.6L376.1,945.5L379.4,946.6L382.6,947.3L385.9,948.0L388.9,948.7L392.0,948.9L395.0,949.2L398.0,950.2L401.0,951.0L404.1,951.7L407.1,952.7L409.8,952.9L412.5,952.6L415.1,952.7L418.5,954.2L421.9,955.6L425.2,956.7L428.2,958.2L431.3,959.2L434.3,961.0L437.3,962.2L440.8,963.6L444.4,964.8L447.6,964.6L450.9,964.5L454.2,964.8L457.5,964.8L460.3,965.4L463.1,966.9L465.9,967.6L468.8,968.5L471.6,969.4L474.3,969.8L477.0,970.4L479.7,970.8L483.0,972.2L486.4,973.0L489.7,974.2L493.1,974.8L496.5,975.6L499.8,976.3L502.8,977.1L505.9,978.3L508.9,979.3L511.9,980.3L514.9,981.2L518.0,982.2L521.0,983.0L524.0,983.9L527.4,983.8L530.7,984.5L534.1,984.3L537.3,985.0L540.5,985.9L543.8,986.7L547.0,987.8L550.2,988.4L553.4,989.4L556.7,990.0L559.9,990.7L563.1,991.3L566.3,992.4L569.5,993.1L572.7,993.2L575.8,994.0L579.0,994.4L582.2,994.9L585.3,995.4L588.5,996.0L591.7,997.1L594.9,998.3L598.0,999.9L601.2,1001.2L604.2,1002.5L607.3,1003.6L610.3,1004.5L613.3,1005.8L616.8,1005.9L620.4,1005.5L623.9,1005.7L627.4,1005.8L630.4,1007.0L633.5,1008.1L636.5,1008.8L639.5,1010.0L642.5,1010.8L645.6,1011.9L648.4,1012.7L651.2,1013.5L654.0,1014.6L656.8,1015.2L659.7,1015.9L662.7,1016.6L665.7,1017.5L668.7,1018.2L671.8,1018.8L674.8,1019.7L677.8,1020.3L680.5,1020.5L683.2,1020.4L685.9,1020.3L689.2,1021.8L692.6,1022.4L696.0,1023.9L699.3,1024.8L702.7,1025.6L706.0,1026.3L709.4,1027.0L712.8,1028.1L716.1,1028.8L719.0,1029.8L721.9,1030.7L724.8,1031.6L727.6,1033.2L730.5,1033.9L733.4,1034.8L736.3,1036.0L739.3,1036.5L742.3,1037.2L745.3,1038.3L748.4,1038.5L751.4,1039.3L754.4,1040.1L757.9,1040.3L761.5,1041.1L765.0,1041.4L768.5,1042.1L771.5,1042.6L774.6,1043.4L777.6,1044.2L780.6,1044.7L783.6,1044.8L786.7,1045.6L789.7,1046.5L792.7,1046.9L795.6,1047.6L798.5,1048.7L801.4,1049.8L804.2,1050.7L807.1,1051.8L810.0,1052.8L812.9,1053.6L816.2,1054.2L819.6,1054.8L823.0,1055.4L826.3,1056.1L829.7,1056.7L833.0,1057.6L836.3,1058.6L839.5,1059.3L842.7,1060.6L845.9,1061.4L849.2,1062.2L851.8,1063.1L854.5,1064.5L857.2,1065.7L859.9,1066.2L862.6,1066.3L865.3,1067.1L868.5,1067.1L871.7,1066.8L875.0,1067.2L878.2,1066.8L881.4,1067.1L884.7,1068.2L888.0,1069.4L891.2,1070.3L894.5,1071.1" fill="none" stroke="#21a96a" stroke-width="3" stroke-linejoin="round"/>
<path d="M281.5,956.1L284.4,956.9L287.3,957.4L290.2,957.7L293.2,958.0L296.2,957.7L299.4,958.2L302.5,959.2L305.7,959.8L308.9,960.6L312.0,961.1L315.2,961.9L318.4,962.8L321.7,963.1L325.1,963.3L328.5,963.7L331.8,963.8L335.2,964.2L338.5,964.8L341.4,965.5L344.2,965.9L347.0,966.6L349.8,967.3L352.7,967.8L356.0,967.7L359.4,967.5L362.7,967.8L366.1,968.4L369.5,968.7L372.8,969.1L376.2,969.5L379.5,970.1L382.9,970.2L385.9,970.6L388.9,971.4L392.0,971.6L395.0,972.2L398.0,972.9L401.0,973.6L404.1,974.1L407.1,974.9L410.1,974.5L413.1,974.6L416.2,974.7L419.2,974.5L422.2,974.3L425.2,974.2L428.6,975.1L431.9,975.6L435.3,976.4L438.7,977.2L442.0,978.3L445.4,978.9L448.6,979.1L451.8,979.5L455.1,979.9L458.3,980.2L461.5,980.9L465.0,981.4L468.6,982.3L472.1,983.1L475.6,983.5L479.1,983.6L482.7,983.8L486.2,984.0L489.7,984.3L493.3,984.9L496.8,985.8L500.3,986.3L503.8,986.9L506.9,987.4L509.9,987.9L512.9,988.8L515.9,989.4L519.0,990.0L522.0,990.4L525.5,990.1L529.0,990.2L532.6,990.3L536.1,990.0L539.3,990.4L542.5,991.0L545.8,991.0L549.0,991.9L552.2,992.0L555.6,992.1L558.9,992.7L562.3,992.9L565.7,993.8L569.0,994.1L572.4,994.4L575.6,995.0L578.8,995.2L582.1,995.6L585.3,995.7L588.5,996.0L591.9,997.1L595.2,997.7L598.5,998.2L601.9,999.3L605.2,999.8L608.6,1000.3L612.0,1000.7L615.3,1001.2L618.7,1002.0L622.0,1002.4L625.4,1003.2L628.8,1003.8L632.1,1004.1L635.5,1004.0L638.8,1004.3L642.2,1004.9L645.6,1005.2L648.9,1005.3L652.3,1005.9L655.6,1006.4L659.0,1006.4L662.4,1006.8L665.7,1007.2L668.7,1008.0L671.8,1008.3L674.8,1008.8L677.8,1009.7L680.8,1010.3L683.9,1010.6L686.9,1011.2L689.9,1011.4L692.9,1011.5L696.0,1011.9L699.5,1012.5L703.0,1013.1L706.5,1013.4L710.1,1013.9L713.6,1013.6L717.1,1013.4L720.6,1013.4L724.2,1013.3L727.2,1014.3L730.2,1015.0L733.2,1015.9L736.3,1016.7L739.0,1017.8L741.8,1018.3L744.6,1019.5L747.4,1020.3L749.6,1018.1L751.9,1016.1L754.2,1014.2L756.4,1011.9L758.9,1014.1L761.5,1016.9L764.0,1018.7L766.5,1021.3L769.9,1021.4L773.2,1021.4L776.6,1021.3L779.9,1021.6L783.3,1022.2L786.7,1022.6L790.0,1023.0L793.4,1023.6L796.7,1023.9L800.1,1024.2L803.5,1025.0L806.8,1025.8L810.2,1026.0L813.5,1027.0L816.9,1027.4L820.1,1027.8L823.4,1028.7L826.6,1029.0L829.8,1029.8L833.0,1030.4L836.1,1030.8L839.1,1031.0L842.1,1031.7L845.1,1032.0L847.8,1031.6L850.5,1031.3L853.2,1030.8L856.6,1031.7L859.9,1032.6L863.3,1033.4L866.6,1033.2L870.0,1032.9L873.4,1032.8L876.4,1033.7L879.4,1033.9L882.4,1035.0L885.4,1035.4L888.5,1036.7L891.5,1037.5L894.5,1038.5" fill="none" stroke="#c9970c" stroke-width="3" stroke-linejoin="round"/>
<path d="M281.5,973.4L284.7,973.6L287.8,973.6L291.0,973.2L294.2,973.4L297.4,974.3L300.6,974.4L303.9,975.2L307.1,975.5L310.3,976.3L313.7,976.7L317.0,976.6L320.4,977.3L323.8,977.6L327.1,977.9L330.5,978.0L333.8,978.5L337.2,978.9L340.6,978.9L343.9,978.8L347.3,979.1L350.6,979.5L354.0,979.5L357.4,979.4L360.7,979.4L364.1,979.9L367.4,979.5L370.8,979.9L374.2,980.3L377.5,980.6L380.9,980.5L384.2,980.9L387.6,981.1L391.0,981.5L394.3,981.7L397.7,982.3L401.0,982.3L404.3,982.8L407.6,982.6L410.9,983.2L414.1,982.9L417.4,983.1L420.7,983.6L424.0,983.9L427.2,983.9L430.5,984.5L433.7,985.0L436.9,985.3L440.1,985.4L443.4,985.9L446.5,986.2L449.6,986.4L452.8,986.0L455.9,986.4L459.0,986.3L462.2,986.4L465.3,986.7L468.5,986.9L471.6,986.9L474.9,987.5L478.3,987.2L481.7,987.7L485.0,988.2L488.4,988.3L491.7,988.4L495.0,988.9L498.2,989.3L501.4,990.0L504.6,990.3L507.9,991.0L510.9,991.3L513.9,991.6L516.9,991.7L520.0,992.2L523.0,992.2L526.0,992.5L529.0,992.9L532.1,993.0L535.4,993.1L538.8,993.3L542.1,993.7L545.5,993.9L548.9,994.4L552.2,994.4L555.5,994.4L558.8,994.6L562.1,994.6L565.4,995.0L568.7,995.0L572.0,995.3L575.3,995.6L578.6,995.3L581.9,996.0L585.2,996.0L588.5,996.0L591.9,996.6L595.2,996.8L598.6,997.2L601.9,997.5L605.3,997.9L608.6,998.2L612.0,998.6L615.3,999.2L618.7,999.3L622.0,999.6L625.4,1000.3L628.8,1000.5L632.1,1000.7L635.5,1000.6L638.8,1001.0L642.2,1001.5L645.6,1001.8L648.9,1002.2L652.3,1002.4L655.6,1002.8L659.0,1003.3L662.4,1003.2L665.7,1003.6L669.1,1004.1L672.4,1004.2L675.8,1004.6L679.2,1004.9L682.5,1004.9L685.9,1004.8L689.2,1005.3L692.6,1005.2L696.0,1005.8L699.3,1006.1L702.7,1006.0L706.0,1006.2L709.4,1006.6L712.8,1006.4L716.1,1006.7L719.5,1006.7L722.8,1006.8L726.2,1007.5L729.6,1007.2L732.9,1007.9L736.3,1007.8L739.5,1008.3L742.7,1008.9L745.9,1009.0L749.2,1010.0L752.4,1010.2L755.4,1010.5L758.4,1010.3L761.5,1010.4L764.5,1010.5L767.5,1010.9L770.5,1010.7L773.6,1011.3L776.6,1011.2L779.9,1011.4L783.3,1011.6L786.7,1011.4L790.0,1011.8L793.4,1011.8L796.7,1012.0L800.1,1012.0L803.5,1012.4L806.8,1012.3L810.2,1012.8L813.5,1013.1L816.9,1013.2L820.3,1013.4L823.6,1013.7L827.0,1014.0L830.3,1014.9L833.7,1014.8L837.1,1015.3L840.4,1015.7L843.8,1015.6L847.1,1016.1L850.5,1016.1L853.9,1016.3L857.2,1016.7L860.6,1017.2L863.9,1017.4L867.3,1018.0L870.7,1017.9L874.0,1018.2L877.4,1018.7L880.8,1018.8L884.2,1019.2L887.7,1020.0L891.1,1020.0L894.5,1020.3" fill="none" stroke="#7d4650" stroke-width="3" stroke-linejoin="round"/>
<rect x="281.5" y="749.3" width="613.6" height="494.29999999999995" fill="none" stroke="#000" stroke-width="3.3"/>
<text x="282.1" y="1279.5" font-size="32" text-anchor="middle" font-family="Liberation Serif, serif" >-100</text>
<text x="435.2" y="1279.5" font-size="32" text-anchor="middle" font-family="Liberation Serif, serif" >-50</text>
<text x="588.4" y="1279.5" font-size="32" text-anchor="middle" font-family="Liberation Serif, serif" >0</text>
<text x="741.5" y="1279.5" font-size="32" text-anchor="middle" font-family="Liberation Serif, serif" >50</text>
<text x="894.7" y="1279.5" font-size="32" text-anchor="middle" font-family="Liberation Serif, serif" >100</text>
<text x="269.5" y="786.4" font-size="32" text-anchor="end" font-family="Liberation Serif, serif" >200</text>
<text x="269.5" y="841.4" font-size="32" text-anchor="end" font-family="Liberation Serif, serif" >150</text>
<text x="269.5" y="896.3" font-size="32" text-anchor="end" font-family="Liberation Serif, serif" >100</text>
<text x="269.5" y="951.2" font-size="32" text-anchor="end" font-family="Liberation Serif, serif" >50</text>
<text x="269.5" y="1006.2" font-size="32" text-anchor="end" font-family="Liberation Serif, serif" >0</text>
<text x="269.5" y="1061.1" font-size="32" text-anchor="end" font-family="Liberation Serif, serif" >-50</text>
<text x="269.5" y="1116.1" font-size="32" text-anchor="end" font-family="Liberation Serif, serif" >-100</text>
<text x="269.5" y="1171.0" font-size="32" text-anchor="end" font-family="Liberation Serif, serif" >-150</text>
<text x="269.5" y="1226.0" font-size="32" text-anchor="end" font-family="Liberation Serif, serif" >-200</text>
<path d="M435.2,1243.6v-9.3M588.4,1243.6v-9.3M741.5,1243.6v-9.3M281.5,776.3h9.3M281.5,831.2h9.3M281.5,886.2h9.3M281.5,941.1h9.3M281.5,996.1h9.3M281.5,1051.0h9.3M281.5,1106.0h9.3M281.5,1161.0h9.3M281.5,1215.9h9.3" stroke="#000" stroke-width="3.3" fill="none"/>
<rect x="737.5" y="759.3" width="146.2" height="177.6" fill="#fff" stroke="#555" stroke-width="0.9"/>
<path d="M742.2,779.0H804" stroke="#4d4d4d" stroke-width="3.8" stroke-linecap="round"/>
<text x="811.8" y="788.2" font-size="27.6" text-anchor="start" font-family="Liberation Serif, serif" >80 K</text>
<path d="M742.2,813.6H804" stroke="#f03a42" stroke-width="3.8" stroke-linecap="round"/>
<text x="811.8" y="822.8" font-size="27.6" text-anchor="start" font-family="Liberation Serif, serif" >110 K</text>
<path d="M742.2,848.2H804" stroke="#21a96a" stroke-width="3.8" stroke-linecap="round"/>
<text x="811.8" y="857.4" font-size="27.6" text-anchor="start" font-family="Liberation Serif, serif" >170 K</text>
<path d="M742.2,882.8H804" stroke="#c9970c" stroke-width="3.8" stroke-linecap="round"/>
<text x="811.8" y="892.0" font-size="27.6" text-anchor="start" font-family="Liberation Serif, serif" >230 K</text>
<path d="M742.2,917.4H804" stroke="#7d4650" stroke-width="3.8" stroke-linecap="round"/>
<text x="811.8" y="926.6" font-size="27.6" text-anchor="start" font-family="Liberation Serif, serif" >290 K</text>
<text x="511.5" y="1325.8" font-size="41.5" font-style="italic" font-family="Liberation Serif, serif">V</text><text x="533.8" y="1336.8" font-size="27.5" font-family="Liberation Serif, serif">ds</text><text x="570.0" y="1325.8" font-size="41.5" font-family="Liberation Serif, serif">(mV)</text>
<g transform="translate(200.4,1049.2) rotate(-90)"><text x="1" y="0" font-size="41" font-style="italic" font-family="Liberation Serif, serif">I</text><text x="16.8" y="8" font-size="29" font-family="Liberation Serif, serif">ph</text><text x="52.1" y="0" font-size="41" font-family="Liberation Serif, serif">(nA)</text></g>
<text y="738.3" font-family="Noto Sans CJK SC, Liberation Sans, sans-serif" font-size="55.3"><tspan x="1270.8">(</tspan><tspan x="1294.1" font-size="50">d</tspan><tspan x="1328.2" font-size="55.3">)</tspan></text>
<circle cx="1500.4" cy="796.7" r="7.9" fill="url(#ball)"/>
<circle cx="1566.8" cy="992.0" r="7.9" fill="url(#ball)"/>
<circle cx="1633.3" cy="1023.6" r="7.9" fill="url(#ball)"/>
<circle cx="1699.7" cy="1073.9" r="7.9" fill="url(#ball)"/>
<circle cx="1766.1" cy="1106.7" r="7.9" fill="url(#ball)"/>
<circle cx="1832.5" cy="1149.9" r="7.9" fill="url(#ball)"/>
<circle cx="1898.9" cy="1174.3" r="7.9" fill="url(#ball)"/>
<circle cx="1965.4" cy="1197.4" r="7.9" fill="url(#ball)"/>
<path d="M1489.3,835.2C1493.6,840.0 1505.8,852.9 1515.2,863.7C1524.6,874.5 1536.1,888.8 1545.6,899.9C1555.1,911.0 1562.8,919.9 1572.3,930.4C1581.8,940.9 1592.6,952.2 1602.8,962.7C1613.0,973.2 1623.0,983.1 1633.2,993.2C1643.4,1003.4 1652.9,1013.3 1663.7,1023.6C1674.5,1033.9 1687.8,1046.3 1697.9,1055.2C1708.1,1064.1 1713.3,1068.4 1724.6,1076.9C1735.9,1085.4 1753.7,1097.4 1765.9,1106.1C1778.1,1114.8 1786.9,1122.3 1798.0,1129.3C1809.1,1136.3 1821.1,1142.4 1832.3,1148.0C1843.5,1153.6 1853.9,1158.3 1865.0,1162.8C1876.1,1167.3 1887.5,1171.0 1898.7,1174.8C1909.9,1178.6 1920.9,1182.1 1932.0,1185.5C1943.1,1188.9 1957.2,1193.0 1965.1,1195.3C1973.0,1197.6 1977.0,1198.5 1979.4,1199.1" fill="none" stroke="#fb0508" stroke-width="3.5" stroke-linecap="round"/>
<rect x="1753.8" y="835.3" width="210.60000000000014" height="173.4000000000001" fill="url(#heat)" stroke="#ecc6ce" stroke-width="0.9"/>
<rect x="1754.8" y="845.8" width="208.60000000000014" height="145.0" fill="url(#lat)"/>
<g fill="#f06a28"><circle cx="1769.13" cy="842.4" r="1.95"/><circle cx="1777.26" cy="842.4" r="1.95"/><circle cx="1793.51" cy="842.4" r="1.95"/><circle cx="1801.64" cy="842.4" r="1.95"/><circle cx="1817.89" cy="842.4" r="1.95"/><circle cx="1826.02" cy="842.4" r="1.95"/><circle cx="1842.27" cy="842.4" r="1.95"/><circle cx="1850.40" cy="842.4" r="1.95"/><circle cx="1866.65" cy="842.4" r="1.95"/><circle cx="1874.78" cy="842.4" r="1.95"/><circle cx="1891.03" cy="842.4" r="1.95"/><circle cx="1899.16" cy="842.4" r="1.95"/><circle cx="1915.41" cy="842.4" r="1.95"/><circle cx="1923.54" cy="842.4" r="1.95"/><circle cx="1939.79" cy="842.4" r="1.95"/><circle cx="1947.92" cy="842.4" r="1.95"/><circle cx="1756.94" cy="994.3" r="1.95"/><circle cx="1765.07" cy="994.3" r="1.95"/><circle cx="1781.32" cy="994.3" r="1.95"/><circle cx="1789.45" cy="994.3" r="1.95"/><circle cx="1805.70" cy="994.3" r="1.95"/><circle cx="1813.83" cy="994.3" r="1.95"/><circle cx="1830.08" cy="994.3" r="1.95"/><circle cx="1838.21" cy="994.3" r="1.95"/><circle cx="1854.46" cy="994.3" r="1.95"/><circle cx="1862.59" cy="994.3" r="1.95"/><circle cx="1878.84" cy="994.3" r="1.95"/><circle cx="1886.97" cy="994.3" r="1.95"/><circle cx="1903.22" cy="994.3" r="1.95"/><circle cx="1911.35" cy="994.3" r="1.95"/><circle cx="1927.60" cy="994.3" r="1.95"/><circle cx="1935.73" cy="994.3" r="1.95"/><circle cx="1951.98" cy="994.3" r="1.95"/><circle cx="1960.11" cy="994.3" r="1.95"/></g>
<rect x="1754.8" y="835.3" width="208.60000000000014" height="173.4000000000001" fill="url(#heat2)"/>
<rect x="1682.3" y="823.8" width="72.5" height="195.10000000000002" fill="#ffc000"/>
<rect x="1963.4" y="823.8" width="70.39999999999986" height="195.10000000000002" fill="#ffc000"/>
<text x="1721.5" y="930.0" font-size="28" text-anchor="middle" font-family="Liberation Serif, serif" font-weight="bold">S</text>
<text x="2001.6" y="929.0" font-size="28" text-anchor="middle" font-family="Liberation Serif, serif" font-weight="bold">D</text>
<text transform="translate(1838.5,936.3) scale(1.03,1.2)" x="0" y="-0.9" font-size="20.6" font-family="Noto Sans CJK SC, Liberation Sans, sans-serif" stroke="#000" stroke-width="0.35">△</text><text transform="translate(1839.8,1061.6) scale(1.03,1.2)" x="0" y="-0.9" font-size="20.6" font-family="Noto Sans CJK SC, Liberation Sans, sans-serif" stroke="#000" stroke-width="0.35">△</text>
<text x="1861.5" y="936.3" font-size="27.6" text-anchor="start" font-family="Liberation Serif, serif" font-weight="bold">T</text>
<text x="1865.3" y="1061.6" font-size="27.6" text-anchor="start" font-family="Liberation Serif, serif" font-weight="bold">R</text>
<path d="M1724.8,1020.2C1724.8,1039 1774,1048 1823.8,1049.9M1999.6,1020.2C1999.6,1039 1951,1048 1901.3,1049.9" fill="none" stroke="#000" stroke-width="1.1"/>
<circle cx="1823.8" cy="1049.9" r="3"/><circle cx="1901.3" cy="1049.9" r="3"/>
<text x="1823.5" y="802.8" font-size="28" text-anchor="start" font-family="Liberation Serif, serif" font-weight="bold">Heat sink</text>
<path d="M1863.4,830V808" stroke="#000" stroke-width="1.1"/><path d="M1863.4,804.5l-2.9,6.5h5.8z"/>
<text x="1743.0" y="780.3" font-size="26" text-anchor="start" font-family="Liberation Serif, serif" font-weight="bold">hν</text>
<path d="M1744.2,790.3L1755.3,785.1Q1758.4,784.0 1757.1,787.0L1749.9,799.2Q1748.3,802.5 1751.8,802.0L1763.6,800.4Q1767.0,800.2 1764.4,802.4L1753.8,810.7Q1751.2,812.9 1754.6,812.6L1766.0,811.7Q1769.2,811.7 1766.8,813.8L1760.4,819.5Q1756.4,823.4 1759.3,826.0Q1762.2,828.8 1766.2,830.9" fill="none" stroke="#ff0d0d" stroke-width="1.45" stroke-linejoin="round" stroke-linecap="round"/><path d="M1769.8,833.0L1761.8,832.5L1767.0,827.2Z" fill="#ff0d0d"/><path d="M1763.2,790.3L1774.3,785.1Q1777.5,784.0 1776.1,787.0L1769.0,799.2Q1767.3,802.5 1770.8,802.0L1782.6,800.4Q1786.0,800.2 1783.5,802.4L1772.8,810.7Q1770.2,812.9 1773.6,812.6L1785.0,811.7Q1788.2,811.7 1785.8,813.8L1779.5,819.5Q1775.5,823.4 1778.3,826.0Q1781.2,828.8 1785.2,830.9" fill="none" stroke="#ff0d0d" stroke-width="1.45" stroke-linejoin="round" stroke-linecap="round"/><path d="M1788.8,833.0L1780.8,832.5L1786.0,827.2Z" fill="#ff0d0d"/>
<rect x="1433.9" y="750.2" width="609.1999999999998" height="490.5" fill="none" stroke="#000" stroke-width="3.7"/>
<text x="1434.0" y="1276.3" font-size="32" text-anchor="middle" font-family="Liberation Serif, serif" >50</text>
<text x="1544.7" y="1276.3" font-size="32" text-anchor="middle" font-family="Liberation Serif, serif" >100</text>
<text x="1655.4" y="1276.3" font-size="32" text-anchor="middle" font-family="Liberation Serif, serif" >150</text>
<text x="1766.1" y="1276.3" font-size="32" text-anchor="middle" font-family="Liberation Serif, serif" >200</text>
<text x="1876.8" y="1276.3" font-size="32" text-anchor="middle" font-family="Liberation Serif, serif" >250</text>
<text x="1987.5" y="1276.3" font-size="32" text-anchor="middle" font-family="Liberation Serif, serif" >300</text>
<text x="1422.3" y="1180.3" font-size="32" text-anchor="end" font-family="Liberation Serif, serif" >40</text>
<text x="1422.3" y="1086.7" font-size="32" text-anchor="end" font-family="Liberation Serif, serif" >80</text>
<text x="1422.3" y="993.2" font-size="32" text-anchor="end" font-family="Liberation Serif, serif" >120</text>
<text x="1422.3" y="899.6" font-size="32" text-anchor="end" font-family="Liberation Serif, serif" >160</text>
<text x="1422.3" y="806.0" font-size="32" text-anchor="end" font-family="Liberation Serif, serif" >200</text>
<path d="M1544.7,1240.7v-9.6M1655.4,1240.7v-9.6M1766.1,1240.7v-9.6M1876.8,1240.7v-9.6M1987.5,1240.7v-9.6M1433.9,1170.6h9.2M1433.9,1077.0h9.2M1433.9,983.5h9.2M1433.9,889.9h9.2M1433.9,796.3h9.2" stroke="#000" stroke-width="3.5" fill="none"/>
<rect x="1442.6" y="1148.3" width="240.0" height="84.6" fill="#fff" stroke="#555" stroke-width="0.9"/>
<circle cx="1483.8" cy="1171" r="7.8" fill="url(#ball)"/>
<text x="1529.0" y="1181.6" font-size="32.2" text-anchor="start" font-family="Liberation Serif, serif" >Experiment</text>
<path d="M1447.4,1211.1H1519.6" stroke="#fb0508" stroke-width="3.8" stroke-linecap="round"/>
<text x="1528.0" y="1222.0" font-size="32.2" text-anchor="start" font-family="Liberation Serif, serif" >Fit</text>
<text x="1698.4" y="1329.1" font-size="42" font-style="italic" font-family="Liberation Serif, serif">T</text><text x="1731.4" y="1329.1" font-size="41" font-family="Liberation Serif, serif">(K)</text>
<g transform="translate(1347.7,1060.6) rotate(-90)"><text x="1" y="0" font-size="41" font-style="italic" font-family="Liberation Serif, serif">I</text><text x="16.8" y="8" font-size="29" font-family="Liberation Serif, serif">ph</text><text x="52.1" y="0" font-size="41" font-family="Liberation Serif, serif">(nA)</text></g>
</svg>
</body></html>
